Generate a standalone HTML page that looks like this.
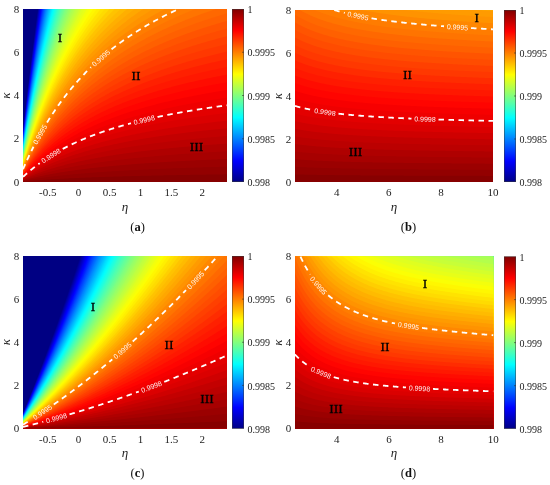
<!DOCTYPE html>
<html><head><meta charset="utf-8"><title>Figure</title><style>
html,body{margin:0;padding:0;background:#fff}
body{width:550px;height:485px;overflow:hidden}
svg{display:block}
.ct{fill:none;stroke:#fff;stroke-width:1.8;stroke-dasharray:5.5 4.5}
.cl{font-family:"Liberation Sans",sans-serif;font-size:7.0px;fill:#fff;fill-opacity:0.95;text-anchor:middle}
.tk{font-family:"Liberation Serif",serif;font-size:10px;fill:#222}
.tk2{font-family:"Liberation Serif",serif;font-size:11px;fill:#222}
.ax{font-family:"Liberation Serif",serif;font-style:italic;font-size:13px;fill:#222}
.cap{font-family:"Liberation Serif",serif;font-size:12.5px;fill:#111}
.rg{font-family:"Liberation Serif",serif;font-size:13.5px;fill:#000;stroke:#000;stroke-width:0.3}
</style></head><body>
<svg width="550" height="485" viewBox="0 0 550 485">
<defs>
<linearGradient id="jetg" x1="0" y1="1" x2="0" y2="0"><stop offset="0.0000" stop-color="#000084"/><stop offset="0.1216" stop-color="#0000ff"/><stop offset="0.3725" stop-color="#00ffff"/><stop offset="0.6235" stop-color="#ffff00"/><stop offset="0.8745" stop-color="#ff0000"/><stop offset="1.0000" stop-color="#800000"/></linearGradient>
<clipPath id="ka"><rect x="23.00" y="9.00" width="204.00" height="173.00"/></clipPath>
<path id="pa" d="M21.00 184.00L21.00 156.49L23.00 156.49L23.25 155.33L23.50 154.18L23.75 153.03L24.00 151.88L24.25 150.74L24.50 149.60L24.75 148.47L25.00 147.34L25.25 146.22L25.50 145.10L25.75 143.99L26.00 142.88L26.25 141.77L26.50 140.67L26.75 139.57L27.00 138.48L27.25 137.39L27.50 136.31L27.75 135.23L28.00 134.15L28.25 133.08L28.50 132.01L28.75 130.95L29.00 129.89L29.25 128.84L29.50 127.79L29.75 126.74L30.00 125.70L30.25 124.66L30.50 123.62L30.75 122.59L31.00 121.56L31.25 120.54L31.50 119.52L31.75 118.50L32.00 117.49L32.25 116.49L32.50 115.48L32.75 114.48L33.00 113.48L33.25 112.49L33.50 111.50L33.75 110.52L34.00 109.53L34.25 108.56L34.50 107.58L34.75 106.61L35.00 105.64L36.00 101.81L37.00 98.03L38.00 94.30L39.00 90.63L40.00 87.01L41.00 83.45L42.00 79.93L43.00 76.46L44.00 73.04L45.00 69.66L46.00 66.34L47.00 63.05L48.00 59.81L49.00 56.62L50.00 53.47L51.00 50.35L52.00 47.28L53.00 44.25L54.00 41.26L55.00 38.31L56.00 35.39L57.00 32.51L58.00 29.67L59.00 26.86L60.00 24.09L61.00 21.35L62.00 18.65L63.00 15.98L64.00 13.34L65.00 10.73L66.00 8.16L67.00 5.61L68.00 3.10L69.00 0.61L70.00 -1.84L71.00 -4.27L72.00 -6.67L73.00 -9.04L74.00 -11.38L75.00 -13.70L76.00 -15.99L77.00 -18.26L78.00 -20.50L79.00 -22.71L80.00 -24.91L81.00 -27.07L82.00 -29.22L83.00 -31.33L84.00 -33.43L85.00 -35.51L86.00 -37.56L87.00 -39.59L88.00 -41.60L89.00 -43.58L90.00 -45.55L91.00 -47.50L92.00 -49.42L93.00 -51.33L94.00 -53.22L95.00 -55.08L96.00 -56.93L97.00 -58.76L98.00 -60.57L99.00 -62.36L100.00 -64.14L101.00 -65.90L102.00 -67.64L103.00 -69.36L104.00 -71.07L105.00 -72.76L106.00 -74.43L107.00 -76.09L108.00 -77.73L109.00 -79.35L110.00 -80.96L111.00 -82.56L112.00 -84.14L113.00 -85.70L114.00 -87.25L115.00 -88.79L116.00 -90.31L117.00 -91.82L118.00 -93.32L119.00 -94.80L120.00 -96.26L121.00 -97.72L122.00 -99.16L123.00 -100.59L124.00 -102.00L125.00 -103.41L126.00 -104.80L127.00 -106.17L128.00 -107.54L129.00 -108.89L130.00 -110.24L131.00 -111.57L132.00 -112.89L133.00 -114.20L134.00 -115.49L135.00 -116.78L136.00 -118.06L137.00 -119.32L138.00 -120.57L139.00 -121.82L140.00 -123.05L141.00 -124.27L142.00 -125.49L143.00 -126.69L144.00 -127.88L145.00 -129.07L146.00 -130.24L147.00 -131.40L148.00 -132.56L149.00 -133.70L150.00 -134.84L151.00 -135.97L152.00 -137.09L153.00 -138.20L154.00 -139.30L155.00 -140.39L156.00 -141.47L157.00 -142.55L158.00 -143.62L159.00 -144.68L160.00 -145.73L161.00 -146.77L162.00 -147.81L163.00 -148.83L164.00 -149.85L165.00 -150.86L166.00 -151.87L167.00 -152.86L168.00 -153.85L169.00 -154.84L170.00 -155.81L171.00 -156.78L172.00 -157.74L173.00 -158.69L174.00 -159.64L175.00 -160.58L176.00 -161.51L177.00 -162.44L178.00 -163.35L179.00 -164.27L180.00 -165.17L181.00 -166.07L182.00 -166.97L183.00 -167.85L184.00 -168.74L185.00 -169.61L186.00 -170.48L187.00 -171.34L188.00 -172.20L189.00 -173.05L190.00 -173.89L191.00 -174.73L192.00 -175.57L193.00 -176.39L194.00 -177.22L195.00 -178.03L196.00 -178.84L197.00 -179.65L198.00 -180.45L199.00 -181.24L200.00 -182.03L201.00 -182.82L202.00 -183.60L203.00 -184.37L204.00 -185.14L205.00 -185.90L206.00 -186.66L207.00 -187.42L208.00 -188.17L209.00 -188.91L210.00 -189.65L211.00 -190.38L212.00 -191.11L213.00 -191.84L214.00 -192.56L215.00 -193.28L216.00 -193.99L217.00 -194.70L218.00 -195.40L219.00 -196.10L220.00 -196.79L221.00 -197.48L222.00 -198.17L223.00 -198.85L224.00 -199.52L225.00 -200.20L226.00 -200.87L227.00 -201.53L229.00 -201.53L229.00 184.00Z"/>
<clipPath id="kb"><rect x="295.00" y="10.00" width="198.00" height="172.00"/></clipPath>
<path id="pb" d="M293.00 184.00L293.00 -198.26L295.00 -198.26L295.25 -197.90L295.50 -197.55L295.75 -197.21L296.00 -196.86L296.25 -196.52L296.50 -196.17L296.75 -195.84L297.00 -195.50L297.25 -195.16L297.50 -194.83L297.75 -194.50L298.00 -194.17L298.25 -193.84L298.50 -193.52L298.75 -193.20L299.00 -192.88L299.25 -192.56L299.50 -192.24L299.75 -191.93L300.00 -191.62L300.25 -191.31L300.50 -191.00L300.75 -190.69L301.00 -190.39L301.25 -190.09L301.50 -189.78L301.75 -189.49L302.00 -189.19L302.25 -188.89L302.50 -188.60L302.75 -188.31L303.00 -188.02L303.25 -187.73L303.50 -187.44L303.75 -187.16L304.00 -186.88L304.25 -186.60L304.50 -186.32L304.75 -186.04L305.00 -185.76L305.25 -185.49L305.50 -185.21L305.75 -184.94L306.00 -184.67L306.25 -184.40L306.50 -184.14L306.75 -183.87L307.00 -183.61L308.00 -182.57L309.00 -181.56L310.00 -180.56L311.00 -179.59L312.00 -178.65L313.00 -177.72L314.00 -176.81L315.00 -175.92L316.00 -175.06L317.00 -174.21L318.00 -173.37L319.00 -172.56L320.00 -171.76L321.00 -170.98L322.00 -170.21L323.00 -169.46L324.00 -168.73L325.00 -168.01L326.00 -167.30L327.00 -166.61L328.00 -165.93L329.00 -165.26L330.00 -164.61L331.00 -163.96L332.00 -163.33L333.00 -162.72L334.00 -162.11L335.00 -161.51L336.00 -160.93L337.00 -160.35L338.00 -159.79L339.00 -159.24L340.00 -158.69L341.00 -158.16L342.00 -157.63L343.00 -157.11L344.00 -156.60L345.00 -156.11L346.00 -155.61L347.00 -155.13L348.00 -154.66L349.00 -154.19L350.00 -153.73L351.00 -153.28L352.00 -152.83L353.00 -152.39L354.00 -151.96L355.00 -151.54L356.00 -151.12L357.00 -150.71L358.00 -150.30L359.00 -149.91L360.00 -149.51L361.00 -149.13L362.00 -148.74L363.00 -148.37L364.00 -148.00L365.00 -147.63L366.00 -147.28L367.00 -146.92L368.00 -146.57L369.00 -146.23L370.00 -145.89L371.00 -145.55L372.00 -145.23L373.00 -144.90L374.00 -144.58L375.00 -144.26L376.00 -143.95L377.00 -143.64L378.00 -143.34L379.00 -143.04L380.00 -142.74L381.00 -142.45L382.00 -142.16L383.00 -141.88L384.00 -141.60L385.00 -141.32L386.00 -141.05L387.00 -140.78L388.00 -140.51L389.00 -140.25L390.00 -139.99L391.00 -139.73L392.00 -139.47L393.00 -139.22L394.00 -138.98L395.00 -138.73L396.00 -138.49L397.00 -138.25L398.00 -138.01L399.00 -137.78L400.00 -137.55L401.00 -137.32L402.00 -137.09L403.00 -136.87L404.00 -136.65L405.00 -136.43L406.00 -136.22L407.00 -136.00L408.00 -135.79L409.00 -135.58L410.00 -135.37L411.00 -135.17L412.00 -134.97L413.00 -134.77L414.00 -134.57L415.00 -134.37L416.00 -134.18L417.00 -133.99L418.00 -133.80L419.00 -133.61L420.00 -133.42L421.00 -133.24L422.00 -133.06L423.00 -132.88L424.00 -132.70L425.00 -132.52L426.00 -132.34L427.00 -132.17L428.00 -132.00L429.00 -131.83L430.00 -131.66L431.00 -131.49L432.00 -131.33L433.00 -131.16L434.00 -131.00L435.00 -130.84L436.00 -130.68L437.00 -130.52L438.00 -130.36L439.00 -130.21L440.00 -130.05L441.00 -129.90L442.00 -129.75L443.00 -129.60L444.00 -129.45L445.00 -129.30L446.00 -129.16L447.00 -129.01L448.00 -128.87L449.00 -128.72L450.00 -128.58L451.00 -128.44L452.00 -128.30L453.00 -128.16L454.00 -128.03L455.00 -127.89L456.00 -127.76L457.00 -127.62L458.00 -127.49L459.00 -127.36L460.00 -127.23L461.00 -127.10L462.00 -126.97L463.00 -126.84L464.00 -126.71L465.00 -126.59L466.00 -126.46L467.00 -126.34L468.00 -126.21L469.00 -126.09L470.00 -125.97L471.00 -125.85L472.00 -125.73L473.00 -125.61L474.00 -125.49L475.00 -125.37L476.00 -125.26L477.00 -125.14L478.00 -125.03L479.00 -124.91L480.00 -124.80L481.00 -124.69L482.00 -124.57L483.00 -124.46L484.00 -124.35L485.00 -124.24L486.00 -124.13L487.00 -124.02L488.00 -123.92L489.00 -123.81L490.00 -123.70L491.00 -123.60L492.00 -123.49L493.00 -123.39L495.00 -123.39L495.00 184.00Z"/>
<clipPath id="kc"><rect x="23.00" y="256.00" width="204.00" height="172.50"/></clipPath>
<path id="pc" d="M21.00 430.50L21.00 420.94L23.00 420.94L23.25 420.63L23.50 420.32L23.75 420.01L24.00 419.70L24.25 419.39L24.50 419.08L24.75 418.77L25.00 418.46L25.25 418.14L25.50 417.83L25.75 417.52L26.00 417.20L26.25 416.89L26.50 416.58L26.75 416.26L27.00 415.95L27.25 415.63L27.50 415.32L27.75 415.00L28.00 414.69L28.25 414.37L28.50 414.05L28.75 413.74L29.00 413.42L29.25 413.10L29.50 412.79L29.75 412.47L30.00 412.15L30.25 411.83L30.50 411.51L30.75 411.19L31.00 410.87L31.25 410.55L31.50 410.23L31.75 409.91L32.00 409.59L32.25 409.27L32.50 408.95L32.75 408.63L33.00 408.30L33.25 407.98L33.50 407.66L33.75 407.34L34.00 407.01L34.25 406.69L34.50 406.37L34.75 406.04L35.00 405.72L36.00 404.41L37.00 403.11L38.00 401.80L39.00 400.48L40.00 399.16L41.00 397.83L42.00 396.50L43.00 395.16L44.00 393.82L45.00 392.47L46.00 391.12L47.00 389.76L48.00 388.40L49.00 387.03L50.00 385.66L51.00 384.28L52.00 382.90L53.00 381.51L54.00 380.11L55.00 378.72L56.00 377.31L57.00 375.91L58.00 374.49L59.00 373.07L60.00 371.65L61.00 370.22L62.00 368.79L63.00 367.35L64.00 365.90L65.00 364.46L66.00 363.00L67.00 361.54L68.00 360.08L69.00 358.61L70.00 357.13L71.00 355.65L72.00 354.17L73.00 352.68L74.00 351.19L75.00 349.69L76.00 348.18L77.00 346.67L78.00 345.16L79.00 343.64L80.00 342.11L81.00 340.58L82.00 339.05L83.00 337.51L84.00 335.96L85.00 334.41L86.00 332.85L87.00 331.29L88.00 329.73L89.00 328.16L90.00 326.58L91.00 325.00L92.00 323.41L93.00 321.82L94.00 320.23L95.00 318.63L96.00 317.02L97.00 315.41L98.00 313.79L99.00 312.17L100.00 310.54L101.00 308.91L102.00 307.27L103.00 305.63L104.00 303.99L105.00 302.33L106.00 300.68L107.00 299.01L108.00 297.35L109.00 295.67L110.00 294.00L111.00 292.31L112.00 290.63L113.00 288.93L114.00 287.24L115.00 285.53L116.00 283.83L117.00 282.11L118.00 280.40L119.00 278.67L120.00 276.94L121.00 275.21L122.00 273.47L123.00 271.73L124.00 269.98L125.00 268.23L126.00 266.47L127.00 264.70L128.00 262.94L129.00 261.16L130.00 259.38L131.00 257.60L132.00 255.81L133.00 254.02L134.00 252.22L135.00 250.41L136.00 248.60L137.00 246.79L138.00 244.97L139.00 243.14L140.00 241.31L141.00 239.48L142.00 237.64L143.00 235.79L144.00 233.94L145.00 232.09L146.00 230.23L147.00 228.36L148.00 226.49L149.00 224.62L150.00 222.74L151.00 220.85L152.00 218.96L153.00 217.07L154.00 215.17L155.00 213.26L156.00 211.35L157.00 209.43L158.00 207.51L159.00 205.59L160.00 203.65L161.00 201.72L162.00 199.78L163.00 197.83L164.00 195.88L165.00 193.92L166.00 191.96L167.00 189.99L168.00 188.02L169.00 186.04L170.00 184.06L171.00 182.08L172.00 180.08L173.00 178.09L174.00 176.08L175.00 174.08L176.00 172.06L177.00 170.05L178.00 168.02L179.00 166.00L180.00 163.96L181.00 161.93L182.00 159.88L183.00 157.84L184.00 155.78L185.00 153.72L186.00 151.66L187.00 149.59L188.00 147.52L189.00 145.44L190.00 143.36L191.00 141.27L192.00 139.17L193.00 137.08L194.00 134.97L195.00 132.86L196.00 130.75L197.00 128.63L198.00 126.51L199.00 124.38L200.00 122.24L201.00 120.10L202.00 117.96L203.00 115.81L204.00 113.65L205.00 111.50L206.00 109.33L207.00 107.16L208.00 104.99L209.00 102.81L210.00 100.62L211.00 98.43L212.00 96.24L213.00 94.04L214.00 91.83L215.00 89.62L216.00 87.40L217.00 85.18L218.00 82.96L219.00 80.73L220.00 78.49L221.00 76.25L222.00 74.00L223.00 71.75L224.00 69.50L225.00 67.24L226.00 64.97L227.00 62.70L229.00 62.70L229.00 430.50Z"/>
<clipPath id="kd"><rect x="295.00" y="256.60" width="198.30" height="172.10"/></clipPath>
<path id="pd" d="M293.00 430.70L293.00 57.56L295.00 57.56L295.25 58.92L295.50 60.28L295.75 61.62L296.00 62.95L296.25 64.26L296.50 65.56L296.75 66.84L297.00 68.11L297.25 69.37L297.50 70.62L297.75 71.85L298.00 73.07L298.25 74.28L298.50 75.48L298.75 76.66L299.00 77.83L299.25 78.99L299.50 80.14L299.75 81.28L300.00 82.40L300.25 83.52L300.50 84.62L300.75 85.71L301.00 86.79L301.25 87.87L301.50 88.93L301.75 89.98L302.00 91.02L302.25 92.05L302.50 93.07L302.75 94.08L303.00 95.08L303.25 96.07L303.50 97.05L303.75 98.03L304.00 98.99L304.25 99.94L304.50 100.89L304.75 101.83L305.00 102.75L305.25 103.67L305.50 104.58L305.75 105.49L306.00 106.38L306.25 107.26L306.50 108.14L306.75 109.01L307.00 109.87L308.00 113.24L309.00 116.49L310.00 119.63L311.00 122.66L312.00 125.59L313.00 128.41L314.00 131.14L315.00 133.79L316.00 136.34L317.00 138.82L318.00 141.21L319.00 143.53L320.00 145.77L321.00 147.95L322.00 150.06L323.00 152.11L324.00 154.09L325.00 156.01L326.00 157.88L327.00 159.70L328.00 161.46L329.00 163.17L330.00 164.83L331.00 166.45L332.00 168.02L333.00 169.54L334.00 171.03L335.00 172.47L336.00 173.88L337.00 175.25L338.00 176.58L339.00 177.88L340.00 179.14L341.00 180.38L342.00 181.58L343.00 182.75L344.00 183.89L345.00 185.00L346.00 186.08L347.00 187.14L348.00 188.18L349.00 189.18L350.00 190.17L351.00 191.13L352.00 192.07L353.00 192.98L354.00 193.88L355.00 194.75L356.00 195.61L357.00 196.44L358.00 197.26L359.00 198.06L360.00 198.84L361.00 199.61L362.00 200.35L363.00 201.08L364.00 201.80L365.00 202.50L366.00 203.19L367.00 203.86L368.00 204.52L369.00 205.17L370.00 205.80L371.00 206.42L372.00 207.02L373.00 207.62L374.00 208.20L375.00 208.77L376.00 209.34L377.00 209.89L378.00 210.43L379.00 210.96L380.00 211.48L381.00 211.99L382.00 212.49L383.00 212.98L384.00 213.46L385.00 213.94L386.00 214.41L387.00 214.86L388.00 215.32L389.00 215.76L390.00 216.19L391.00 216.62L392.00 217.04L393.00 217.46L394.00 217.86L395.00 218.26L396.00 218.66L397.00 219.05L398.00 219.43L399.00 219.81L400.00 220.18L401.00 220.54L402.00 220.90L403.00 221.25L404.00 221.60L405.00 221.95L406.00 222.28L407.00 222.62L408.00 222.95L409.00 223.27L410.00 223.59L411.00 223.91L412.00 224.22L413.00 224.53L414.00 224.83L415.00 225.13L416.00 225.43L417.00 225.72L418.00 226.01L419.00 226.29L420.00 226.57L421.00 226.85L422.00 227.13L423.00 227.40L424.00 227.67L425.00 227.93L426.00 228.19L427.00 228.45L428.00 228.71L429.00 228.96L430.00 229.21L431.00 229.46L432.00 229.71L433.00 229.95L434.00 230.19L435.00 230.43L436.00 230.67L437.00 230.90L438.00 231.14L439.00 231.37L440.00 231.59L441.00 231.82L442.00 232.04L443.00 232.27L444.00 232.49L445.00 232.70L446.00 232.92L447.00 233.14L448.00 233.35L449.00 233.56L450.00 233.77L451.00 233.98L452.00 234.19L453.00 234.39L454.00 234.60L455.00 234.80L456.00 235.00L457.00 235.20L458.00 235.40L459.00 235.60L460.00 235.79L461.00 235.99L462.00 236.18L463.00 236.37L464.00 236.56L465.00 236.76L466.00 236.95L467.00 237.13L468.00 237.32L469.00 237.51L470.00 237.69L471.00 237.88L472.00 238.06L473.00 238.25L474.00 238.43L475.00 238.61L476.00 238.79L477.00 238.97L478.00 239.15L479.00 239.33L480.00 239.51L481.00 239.68L482.00 239.86L483.00 240.04L484.00 240.21L485.00 240.39L486.00 240.56L487.00 240.73L488.00 240.91L489.00 241.08L490.00 241.25L491.00 241.42L492.00 241.60L493.00 241.77L493.30 241.82L495.30 241.82L495.30 430.70Z"/>
</defs>
<g clip-path="url(#ka)">
<rect x="22.00" y="8.00" width="206.00" height="175.00" fill="#000083"/>
<use href="#pa" fill="#00008b" transform="matrix(1 0 0 1.98000 0 -178.360)"/>
<use href="#pa" fill="#000097" transform="matrix(1 0 0 1.96000 0 -174.720)"/>
<use href="#pa" fill="#00009f" transform="matrix(1 0 0 1.94000 0 -171.080)"/>
<use href="#pa" fill="#0000ab" transform="matrix(1 0 0 1.92000 0 -167.440)"/>
<use href="#pa" fill="#0000b3" transform="matrix(1 0 0 1.90000 0 -163.800)"/>
<use href="#pa" fill="#0000bf" transform="matrix(1 0 0 1.88000 0 -160.160)"/>
<use href="#pa" fill="#0000c7" transform="matrix(1 0 0 1.86000 0 -156.520)"/>
<use href="#pa" fill="#0000d3" transform="matrix(1 0 0 1.84000 0 -152.880)"/>
<use href="#pa" fill="#0000df" transform="matrix(1 0 0 1.82000 0 -149.240)"/>
<use href="#pa" fill="#0000e7" transform="matrix(1 0 0 1.80000 0 -145.600)"/>
<use href="#pa" fill="#0000f3" transform="matrix(1 0 0 1.78000 0 -141.960)"/>
<use href="#pa" fill="#0000fb" transform="matrix(1 0 0 1.76000 0 -138.320)"/>
<use href="#pa" fill="#0008ff" transform="matrix(1 0 0 1.74000 0 -134.680)"/>
<use href="#pa" fill="#0010ff" transform="matrix(1 0 0 1.72000 0 -131.040)"/>
<use href="#pa" fill="#001cff" transform="matrix(1 0 0 1.70000 0 -127.400)"/>
<use href="#pa" fill="#0024ff" transform="matrix(1 0 0 1.68000 0 -123.760)"/>
<use href="#pa" fill="#0030ff" transform="matrix(1 0 0 1.66000 0 -120.120)"/>
<use href="#pa" fill="#003cff" transform="matrix(1 0 0 1.64000 0 -116.480)"/>
<use href="#pa" fill="#0044ff" transform="matrix(1 0 0 1.62000 0 -112.840)"/>
<use href="#pa" fill="#0050ff" transform="matrix(1 0 0 1.60000 0 -109.200)"/>
<use href="#pa" fill="#0058ff" transform="matrix(1 0 0 1.58000 0 -105.560)"/>
<use href="#pa" fill="#0064ff" transform="matrix(1 0 0 1.56000 0 -101.920)"/>
<use href="#pa" fill="#006cff" transform="matrix(1 0 0 1.54000 0 -98.280)"/>
<use href="#pa" fill="#0078ff" transform="matrix(1 0 0 1.52000 0 -94.640)"/>
<use href="#pa" fill="#0083ff" transform="matrix(1 0 0 1.50000 0 -91.000)"/>
<use href="#pa" fill="#008bff" transform="matrix(1 0 0 1.48000 0 -87.360)"/>
<use href="#pa" fill="#0097ff" transform="matrix(1 0 0 1.46000 0 -83.720)"/>
<use href="#pa" fill="#009fff" transform="matrix(1 0 0 1.44000 0 -80.080)"/>
<use href="#pa" fill="#00abff" transform="matrix(1 0 0 1.42000 0 -76.440)"/>
<use href="#pa" fill="#00b3ff" transform="matrix(1 0 0 1.40000 0 -72.800)"/>
<use href="#pa" fill="#00bfff" transform="matrix(1 0 0 1.38000 0 -69.160)"/>
<use href="#pa" fill="#00c7ff" transform="matrix(1 0 0 1.36000 0 -65.520)"/>
<use href="#pa" fill="#00d3ff" transform="matrix(1 0 0 1.34000 0 -61.880)"/>
<use href="#pa" fill="#00dfff" transform="matrix(1 0 0 1.32000 0 -58.240)"/>
<use href="#pa" fill="#00e7ff" transform="matrix(1 0 0 1.30000 0 -54.600)"/>
<use href="#pa" fill="#00f3ff" transform="matrix(1 0 0 1.28000 0 -50.960)"/>
<use href="#pa" fill="#00fbff" transform="matrix(1 0 0 1.26000 0 -47.320)"/>
<use href="#pa" fill="#08fff7" transform="matrix(1 0 0 1.24000 0 -43.680)"/>
<use href="#pa" fill="#10ffef" transform="matrix(1 0 0 1.22000 0 -40.040)"/>
<use href="#pa" fill="#1cffe3" transform="matrix(1 0 0 1.20000 0 -36.400)"/>
<use href="#pa" fill="#24ffdb" transform="matrix(1 0 0 1.18000 0 -32.760)"/>
<use href="#pa" fill="#30ffcf" transform="matrix(1 0 0 1.16000 0 -29.120)"/>
<use href="#pa" fill="#3cffc3" transform="matrix(1 0 0 1.14000 0 -25.480)"/>
<use href="#pa" fill="#44ffbb" transform="matrix(1 0 0 1.12000 0 -21.840)"/>
<use href="#pa" fill="#50ffaf" transform="matrix(1 0 0 1.10000 0 -18.200)"/>
<use href="#pa" fill="#58ffa7" transform="matrix(1 0 0 1.08000 0 -14.560)"/>
<use href="#pa" fill="#64ff9b" transform="matrix(1 0 0 1.06000 0 -10.920)"/>
<use href="#pa" fill="#6cff93" transform="matrix(1 0 0 1.04000 0 -7.280)"/>
<use href="#pa" fill="#78ff87" transform="matrix(1 0 0 1.02000 0 -3.640)"/>
<use href="#pa" fill="#83ff7c" transform="matrix(1 0 0 1.00000 0 0.000)"/>
<use href="#pa" fill="#8bff74" transform="matrix(1 0 0 0.98000 0 3.640)"/>
<use href="#pa" fill="#97ff68" transform="matrix(1 0 0 0.96000 0 7.280)"/>
<use href="#pa" fill="#9fff60" transform="matrix(1 0 0 0.94000 0 10.920)"/>
<use href="#pa" fill="#abff54" transform="matrix(1 0 0 0.92000 0 14.560)"/>
<use href="#pa" fill="#b3ff4c" transform="matrix(1 0 0 0.90000 0 18.200)"/>
<use href="#pa" fill="#bfff40" transform="matrix(1 0 0 0.88000 0 21.840)"/>
<use href="#pa" fill="#c7ff38" transform="matrix(1 0 0 0.86000 0 25.480)"/>
<use href="#pa" fill="#d3ff2c" transform="matrix(1 0 0 0.84000 0 29.120)"/>
<use href="#pa" fill="#dfff20" transform="matrix(1 0 0 0.82000 0 32.760)"/>
<use href="#pa" fill="#e7ff18" transform="matrix(1 0 0 0.80000 0 36.400)"/>
<use href="#pa" fill="#f3ff0c" transform="matrix(1 0 0 0.78000 0 40.040)"/>
<use href="#pa" fill="#fbff04" transform="matrix(1 0 0 0.76000 0 43.680)"/>
<use href="#pa" fill="#fff700" transform="matrix(1 0 0 0.74000 0 47.320)"/>
<use href="#pa" fill="#ffef00" transform="matrix(1 0 0 0.72000 0 50.960)"/>
<use href="#pa" fill="#ffe300" transform="matrix(1 0 0 0.70000 0 54.600)"/>
<use href="#pa" fill="#ffdb00" transform="matrix(1 0 0 0.68000 0 58.240)"/>
<use href="#pa" fill="#ffcf00" transform="matrix(1 0 0 0.66000 0 61.880)"/>
<use href="#pa" fill="#ffc300" transform="matrix(1 0 0 0.64000 0 65.520)"/>
<use href="#pa" fill="#ffbb00" transform="matrix(1 0 0 0.62000 0 69.160)"/>
<use href="#pa" fill="#ffaf00" transform="matrix(1 0 0 0.60000 0 72.800)"/>
<use href="#pa" fill="#ffa700" transform="matrix(1 0 0 0.58000 0 76.440)"/>
<use href="#pa" fill="#ff9b00" transform="matrix(1 0 0 0.56000 0 80.080)"/>
<use href="#pa" fill="#ff9300" transform="matrix(1 0 0 0.54000 0 83.720)"/>
<use href="#pa" fill="#ff8700" transform="matrix(1 0 0 0.52000 0 87.360)"/>
<use href="#pa" fill="#ff7c00" transform="matrix(1 0 0 0.50000 0 91.000)"/>
<use href="#pa" fill="#ff7400" transform="matrix(1 0 0 0.48000 0 94.640)"/>
<use href="#pa" fill="#ff6800" transform="matrix(1 0 0 0.46000 0 98.280)"/>
<use href="#pa" fill="#ff6000" transform="matrix(1 0 0 0.44000 0 101.920)"/>
<use href="#pa" fill="#ff5400" transform="matrix(1 0 0 0.42000 0 105.560)"/>
<use href="#pa" fill="#ff4c00" transform="matrix(1 0 0 0.40000 0 109.200)"/>
<use href="#pa" fill="#ff4000" transform="matrix(1 0 0 0.38000 0 112.840)"/>
<use href="#pa" fill="#ff3800" transform="matrix(1 0 0 0.36000 0 116.480)"/>
<use href="#pa" fill="#ff2c00" transform="matrix(1 0 0 0.34000 0 120.120)"/>
<use href="#pa" fill="#ff2000" transform="matrix(1 0 0 0.32000 0 123.760)"/>
<use href="#pa" fill="#ff1800" transform="matrix(1 0 0 0.30000 0 127.400)"/>
<use href="#pa" fill="#ff0c00" transform="matrix(1 0 0 0.28000 0 131.040)"/>
<use href="#pa" fill="#ff0400" transform="matrix(1 0 0 0.26000 0 134.680)"/>
<use href="#pa" fill="#f70000" transform="matrix(1 0 0 0.24000 0 138.320)"/>
<use href="#pa" fill="#ef0000" transform="matrix(1 0 0 0.22000 0 141.960)"/>
<use href="#pa" fill="#e30000" transform="matrix(1 0 0 0.20000 0 145.600)"/>
<use href="#pa" fill="#db0000" transform="matrix(1 0 0 0.18000 0 149.240)"/>
<use href="#pa" fill="#cf0000" transform="matrix(1 0 0 0.16000 0 152.880)"/>
<use href="#pa" fill="#c30000" transform="matrix(1 0 0 0.14000 0 156.520)"/>
<use href="#pa" fill="#bb0000" transform="matrix(1 0 0 0.12000 0 160.160)"/>
<use href="#pa" fill="#af0000" transform="matrix(1 0 0 0.10000 0 163.800)"/>
<use href="#pa" fill="#a70000" transform="matrix(1 0 0 0.08000 0 167.440)"/>
<use href="#pa" fill="#9b0000" transform="matrix(1 0 0 0.06000 0 171.080)"/>
<use href="#pa" fill="#930000" transform="matrix(1 0 0 0.04000 0 174.720)"/>
<use href="#pa" fill="#870000" transform="matrix(1 0 0 0.02000 0 178.360)"/>
</g>
<rect x="232" y="9.00" width="12" height="173.00" fill="url(#jetg)"/>
<rect x="232.25" y="9.25" width="11.5" height="172.50" fill="none" stroke="#3a3a3a" stroke-width="0.5"/>
<line x1="242.0" x2="244.0" y1="138.75" y2="138.75" stroke="#333" stroke-width="0.6"/>
<line x1="242.0" x2="244.0" y1="95.50" y2="95.50" stroke="#333" stroke-width="0.6"/>
<line x1="242.0" x2="244.0" y1="52.25" y2="52.25" stroke="#333" stroke-width="0.6"/>
<g clip-path="url(#kb)">
<rect x="294.00" y="9.00" width="200.00" height="174.00" fill="#000083"/>
<use href="#pb" fill="#00008b" transform="matrix(1 0 0 1.98000 0 -178.360)"/>
<use href="#pb" fill="#000097" transform="matrix(1 0 0 1.96000 0 -174.720)"/>
<use href="#pb" fill="#00009f" transform="matrix(1 0 0 1.94000 0 -171.080)"/>
<use href="#pb" fill="#0000ab" transform="matrix(1 0 0 1.92000 0 -167.440)"/>
<use href="#pb" fill="#0000b3" transform="matrix(1 0 0 1.90000 0 -163.800)"/>
<use href="#pb" fill="#0000bf" transform="matrix(1 0 0 1.88000 0 -160.160)"/>
<use href="#pb" fill="#0000c7" transform="matrix(1 0 0 1.86000 0 -156.520)"/>
<use href="#pb" fill="#0000d3" transform="matrix(1 0 0 1.84000 0 -152.880)"/>
<use href="#pb" fill="#0000df" transform="matrix(1 0 0 1.82000 0 -149.240)"/>
<use href="#pb" fill="#0000e7" transform="matrix(1 0 0 1.80000 0 -145.600)"/>
<use href="#pb" fill="#0000f3" transform="matrix(1 0 0 1.78000 0 -141.960)"/>
<use href="#pb" fill="#0000fb" transform="matrix(1 0 0 1.76000 0 -138.320)"/>
<use href="#pb" fill="#0008ff" transform="matrix(1 0 0 1.74000 0 -134.680)"/>
<use href="#pb" fill="#0010ff" transform="matrix(1 0 0 1.72000 0 -131.040)"/>
<use href="#pb" fill="#001cff" transform="matrix(1 0 0 1.70000 0 -127.400)"/>
<use href="#pb" fill="#0024ff" transform="matrix(1 0 0 1.68000 0 -123.760)"/>
<use href="#pb" fill="#0030ff" transform="matrix(1 0 0 1.66000 0 -120.120)"/>
<use href="#pb" fill="#003cff" transform="matrix(1 0 0 1.64000 0 -116.480)"/>
<use href="#pb" fill="#0044ff" transform="matrix(1 0 0 1.62000 0 -112.840)"/>
<use href="#pb" fill="#0050ff" transform="matrix(1 0 0 1.60000 0 -109.200)"/>
<use href="#pb" fill="#0058ff" transform="matrix(1 0 0 1.58000 0 -105.560)"/>
<use href="#pb" fill="#0064ff" transform="matrix(1 0 0 1.56000 0 -101.920)"/>
<use href="#pb" fill="#006cff" transform="matrix(1 0 0 1.54000 0 -98.280)"/>
<use href="#pb" fill="#0078ff" transform="matrix(1 0 0 1.52000 0 -94.640)"/>
<use href="#pb" fill="#0083ff" transform="matrix(1 0 0 1.50000 0 -91.000)"/>
<use href="#pb" fill="#008bff" transform="matrix(1 0 0 1.48000 0 -87.360)"/>
<use href="#pb" fill="#0097ff" transform="matrix(1 0 0 1.46000 0 -83.720)"/>
<use href="#pb" fill="#009fff" transform="matrix(1 0 0 1.44000 0 -80.080)"/>
<use href="#pb" fill="#00abff" transform="matrix(1 0 0 1.42000 0 -76.440)"/>
<use href="#pb" fill="#00b3ff" transform="matrix(1 0 0 1.40000 0 -72.800)"/>
<use href="#pb" fill="#00bfff" transform="matrix(1 0 0 1.38000 0 -69.160)"/>
<use href="#pb" fill="#00c7ff" transform="matrix(1 0 0 1.36000 0 -65.520)"/>
<use href="#pb" fill="#00d3ff" transform="matrix(1 0 0 1.34000 0 -61.880)"/>
<use href="#pb" fill="#00dfff" transform="matrix(1 0 0 1.32000 0 -58.240)"/>
<use href="#pb" fill="#00e7ff" transform="matrix(1 0 0 1.30000 0 -54.600)"/>
<use href="#pb" fill="#00f3ff" transform="matrix(1 0 0 1.28000 0 -50.960)"/>
<use href="#pb" fill="#00fbff" transform="matrix(1 0 0 1.26000 0 -47.320)"/>
<use href="#pb" fill="#08fff7" transform="matrix(1 0 0 1.24000 0 -43.680)"/>
<use href="#pb" fill="#10ffef" transform="matrix(1 0 0 1.22000 0 -40.040)"/>
<use href="#pb" fill="#1cffe3" transform="matrix(1 0 0 1.20000 0 -36.400)"/>
<use href="#pb" fill="#24ffdb" transform="matrix(1 0 0 1.18000 0 -32.760)"/>
<use href="#pb" fill="#30ffcf" transform="matrix(1 0 0 1.16000 0 -29.120)"/>
<use href="#pb" fill="#3cffc3" transform="matrix(1 0 0 1.14000 0 -25.480)"/>
<use href="#pb" fill="#44ffbb" transform="matrix(1 0 0 1.12000 0 -21.840)"/>
<use href="#pb" fill="#50ffaf" transform="matrix(1 0 0 1.10000 0 -18.200)"/>
<use href="#pb" fill="#58ffa7" transform="matrix(1 0 0 1.08000 0 -14.560)"/>
<use href="#pb" fill="#64ff9b" transform="matrix(1 0 0 1.06000 0 -10.920)"/>
<use href="#pb" fill="#6cff93" transform="matrix(1 0 0 1.04000 0 -7.280)"/>
<use href="#pb" fill="#78ff87" transform="matrix(1 0 0 1.02000 0 -3.640)"/>
<use href="#pb" fill="#83ff7c" transform="matrix(1 0 0 1.00000 0 0.000)"/>
<use href="#pb" fill="#8bff74" transform="matrix(1 0 0 0.98000 0 3.640)"/>
<use href="#pb" fill="#97ff68" transform="matrix(1 0 0 0.96000 0 7.280)"/>
<use href="#pb" fill="#9fff60" transform="matrix(1 0 0 0.94000 0 10.920)"/>
<use href="#pb" fill="#abff54" transform="matrix(1 0 0 0.92000 0 14.560)"/>
<use href="#pb" fill="#b3ff4c" transform="matrix(1 0 0 0.90000 0 18.200)"/>
<use href="#pb" fill="#bfff40" transform="matrix(1 0 0 0.88000 0 21.840)"/>
<use href="#pb" fill="#c7ff38" transform="matrix(1 0 0 0.86000 0 25.480)"/>
<use href="#pb" fill="#d3ff2c" transform="matrix(1 0 0 0.84000 0 29.120)"/>
<use href="#pb" fill="#dfff20" transform="matrix(1 0 0 0.82000 0 32.760)"/>
<use href="#pb" fill="#e7ff18" transform="matrix(1 0 0 0.80000 0 36.400)"/>
<use href="#pb" fill="#f3ff0c" transform="matrix(1 0 0 0.78000 0 40.040)"/>
<use href="#pb" fill="#fbff04" transform="matrix(1 0 0 0.76000 0 43.680)"/>
<use href="#pb" fill="#fff700" transform="matrix(1 0 0 0.74000 0 47.320)"/>
<use href="#pb" fill="#ffef00" transform="matrix(1 0 0 0.72000 0 50.960)"/>
<use href="#pb" fill="#ffe300" transform="matrix(1 0 0 0.70000 0 54.600)"/>
<use href="#pb" fill="#ffdb00" transform="matrix(1 0 0 0.68000 0 58.240)"/>
<use href="#pb" fill="#ffcf00" transform="matrix(1 0 0 0.66000 0 61.880)"/>
<use href="#pb" fill="#ffc300" transform="matrix(1 0 0 0.64000 0 65.520)"/>
<use href="#pb" fill="#ffbb00" transform="matrix(1 0 0 0.62000 0 69.160)"/>
<use href="#pb" fill="#ffaf00" transform="matrix(1 0 0 0.60000 0 72.800)"/>
<use href="#pb" fill="#ffa700" transform="matrix(1 0 0 0.58000 0 76.440)"/>
<use href="#pb" fill="#ff9b00" transform="matrix(1 0 0 0.56000 0 80.080)"/>
<use href="#pb" fill="#ff9300" transform="matrix(1 0 0 0.54000 0 83.720)"/>
<use href="#pb" fill="#ff8700" transform="matrix(1 0 0 0.52000 0 87.360)"/>
<use href="#pb" fill="#ff7c00" transform="matrix(1 0 0 0.50000 0 91.000)"/>
<use href="#pb" fill="#ff7400" transform="matrix(1 0 0 0.48000 0 94.640)"/>
<use href="#pb" fill="#ff6800" transform="matrix(1 0 0 0.46000 0 98.280)"/>
<use href="#pb" fill="#ff6000" transform="matrix(1 0 0 0.44000 0 101.920)"/>
<use href="#pb" fill="#ff5400" transform="matrix(1 0 0 0.42000 0 105.560)"/>
<use href="#pb" fill="#ff4c00" transform="matrix(1 0 0 0.40000 0 109.200)"/>
<use href="#pb" fill="#ff4000" transform="matrix(1 0 0 0.38000 0 112.840)"/>
<use href="#pb" fill="#ff3800" transform="matrix(1 0 0 0.36000 0 116.480)"/>
<use href="#pb" fill="#ff2c00" transform="matrix(1 0 0 0.34000 0 120.120)"/>
<use href="#pb" fill="#ff2000" transform="matrix(1 0 0 0.32000 0 123.760)"/>
<use href="#pb" fill="#ff1800" transform="matrix(1 0 0 0.30000 0 127.400)"/>
<use href="#pb" fill="#ff0c00" transform="matrix(1 0 0 0.28000 0 131.040)"/>
<use href="#pb" fill="#ff0400" transform="matrix(1 0 0 0.26000 0 134.680)"/>
<use href="#pb" fill="#f70000" transform="matrix(1 0 0 0.24000 0 138.320)"/>
<use href="#pb" fill="#ef0000" transform="matrix(1 0 0 0.22000 0 141.960)"/>
<use href="#pb" fill="#e30000" transform="matrix(1 0 0 0.20000 0 145.600)"/>
<use href="#pb" fill="#db0000" transform="matrix(1 0 0 0.18000 0 149.240)"/>
<use href="#pb" fill="#cf0000" transform="matrix(1 0 0 0.16000 0 152.880)"/>
<use href="#pb" fill="#c30000" transform="matrix(1 0 0 0.14000 0 156.520)"/>
<use href="#pb" fill="#bb0000" transform="matrix(1 0 0 0.12000 0 160.160)"/>
<use href="#pb" fill="#af0000" transform="matrix(1 0 0 0.10000 0 163.800)"/>
<use href="#pb" fill="#a70000" transform="matrix(1 0 0 0.08000 0 167.440)"/>
<use href="#pb" fill="#9b0000" transform="matrix(1 0 0 0.06000 0 171.080)"/>
<use href="#pb" fill="#930000" transform="matrix(1 0 0 0.04000 0 174.720)"/>
<use href="#pb" fill="#870000" transform="matrix(1 0 0 0.02000 0 178.360)"/>
</g>
<rect x="504" y="10.00" width="12" height="172.00" fill="url(#jetg)"/>
<rect x="504.25" y="10.25" width="11.5" height="171.50" fill="none" stroke="#3a3a3a" stroke-width="0.5"/>
<line x1="514.0" x2="516.0" y1="139.00" y2="139.00" stroke="#333" stroke-width="0.6"/>
<line x1="514.0" x2="516.0" y1="96.00" y2="96.00" stroke="#333" stroke-width="0.6"/>
<line x1="514.0" x2="516.0" y1="53.00" y2="53.00" stroke="#333" stroke-width="0.6"/>
<g clip-path="url(#kc)">
<rect x="22.00" y="255.00" width="206.00" height="174.50" fill="#000083"/>
<use href="#pc" fill="#00008b" transform="matrix(1 0 0 1.98000 0 -419.930)"/>
<use href="#pc" fill="#000097" transform="matrix(1 0 0 1.96000 0 -411.360)"/>
<use href="#pc" fill="#00009f" transform="matrix(1 0 0 1.94000 0 -402.790)"/>
<use href="#pc" fill="#0000ab" transform="matrix(1 0 0 1.92000 0 -394.220)"/>
<use href="#pc" fill="#0000b3" transform="matrix(1 0 0 1.90000 0 -385.650)"/>
<use href="#pc" fill="#0000bf" transform="matrix(1 0 0 1.88000 0 -377.080)"/>
<use href="#pc" fill="#0000c7" transform="matrix(1 0 0 1.86000 0 -368.510)"/>
<use href="#pc" fill="#0000d3" transform="matrix(1 0 0 1.84000 0 -359.940)"/>
<use href="#pc" fill="#0000df" transform="matrix(1 0 0 1.82000 0 -351.370)"/>
<use href="#pc" fill="#0000e7" transform="matrix(1 0 0 1.80000 0 -342.800)"/>
<use href="#pc" fill="#0000f3" transform="matrix(1 0 0 1.78000 0 -334.230)"/>
<use href="#pc" fill="#0000fb" transform="matrix(1 0 0 1.76000 0 -325.660)"/>
<use href="#pc" fill="#0008ff" transform="matrix(1 0 0 1.74000 0 -317.090)"/>
<use href="#pc" fill="#0010ff" transform="matrix(1 0 0 1.72000 0 -308.520)"/>
<use href="#pc" fill="#001cff" transform="matrix(1 0 0 1.70000 0 -299.950)"/>
<use href="#pc" fill="#0024ff" transform="matrix(1 0 0 1.68000 0 -291.380)"/>
<use href="#pc" fill="#0030ff" transform="matrix(1 0 0 1.66000 0 -282.810)"/>
<use href="#pc" fill="#003cff" transform="matrix(1 0 0 1.64000 0 -274.240)"/>
<use href="#pc" fill="#0044ff" transform="matrix(1 0 0 1.62000 0 -265.670)"/>
<use href="#pc" fill="#0050ff" transform="matrix(1 0 0 1.60000 0 -257.100)"/>
<use href="#pc" fill="#0058ff" transform="matrix(1 0 0 1.58000 0 -248.530)"/>
<use href="#pc" fill="#0064ff" transform="matrix(1 0 0 1.56000 0 -239.960)"/>
<use href="#pc" fill="#006cff" transform="matrix(1 0 0 1.54000 0 -231.390)"/>
<use href="#pc" fill="#0078ff" transform="matrix(1 0 0 1.52000 0 -222.820)"/>
<use href="#pc" fill="#0083ff" transform="matrix(1 0 0 1.50000 0 -214.250)"/>
<use href="#pc" fill="#008bff" transform="matrix(1 0 0 1.48000 0 -205.680)"/>
<use href="#pc" fill="#0097ff" transform="matrix(1 0 0 1.46000 0 -197.110)"/>
<use href="#pc" fill="#009fff" transform="matrix(1 0 0 1.44000 0 -188.540)"/>
<use href="#pc" fill="#00abff" transform="matrix(1 0 0 1.42000 0 -179.970)"/>
<use href="#pc" fill="#00b3ff" transform="matrix(1 0 0 1.40000 0 -171.400)"/>
<use href="#pc" fill="#00bfff" transform="matrix(1 0 0 1.38000 0 -162.830)"/>
<use href="#pc" fill="#00c7ff" transform="matrix(1 0 0 1.36000 0 -154.260)"/>
<use href="#pc" fill="#00d3ff" transform="matrix(1 0 0 1.34000 0 -145.690)"/>
<use href="#pc" fill="#00dfff" transform="matrix(1 0 0 1.32000 0 -137.120)"/>
<use href="#pc" fill="#00e7ff" transform="matrix(1 0 0 1.30000 0 -128.550)"/>
<use href="#pc" fill="#00f3ff" transform="matrix(1 0 0 1.28000 0 -119.980)"/>
<use href="#pc" fill="#00fbff" transform="matrix(1 0 0 1.26000 0 -111.410)"/>
<use href="#pc" fill="#08fff7" transform="matrix(1 0 0 1.24000 0 -102.840)"/>
<use href="#pc" fill="#10ffef" transform="matrix(1 0 0 1.22000 0 -94.270)"/>
<use href="#pc" fill="#1cffe3" transform="matrix(1 0 0 1.20000 0 -85.700)"/>
<use href="#pc" fill="#24ffdb" transform="matrix(1 0 0 1.18000 0 -77.130)"/>
<use href="#pc" fill="#30ffcf" transform="matrix(1 0 0 1.16000 0 -68.560)"/>
<use href="#pc" fill="#3cffc3" transform="matrix(1 0 0 1.14000 0 -59.990)"/>
<use href="#pc" fill="#44ffbb" transform="matrix(1 0 0 1.12000 0 -51.420)"/>
<use href="#pc" fill="#50ffaf" transform="matrix(1 0 0 1.10000 0 -42.850)"/>
<use href="#pc" fill="#58ffa7" transform="matrix(1 0 0 1.08000 0 -34.280)"/>
<use href="#pc" fill="#64ff9b" transform="matrix(1 0 0 1.06000 0 -25.710)"/>
<use href="#pc" fill="#6cff93" transform="matrix(1 0 0 1.04000 0 -17.140)"/>
<use href="#pc" fill="#78ff87" transform="matrix(1 0 0 1.02000 0 -8.570)"/>
<use href="#pc" fill="#83ff7c" transform="matrix(1 0 0 1.00000 0 0.000)"/>
<use href="#pc" fill="#8bff74" transform="matrix(1 0 0 0.98000 0 8.570)"/>
<use href="#pc" fill="#97ff68" transform="matrix(1 0 0 0.96000 0 17.140)"/>
<use href="#pc" fill="#9fff60" transform="matrix(1 0 0 0.94000 0 25.710)"/>
<use href="#pc" fill="#abff54" transform="matrix(1 0 0 0.92000 0 34.280)"/>
<use href="#pc" fill="#b3ff4c" transform="matrix(1 0 0 0.90000 0 42.850)"/>
<use href="#pc" fill="#bfff40" transform="matrix(1 0 0 0.88000 0 51.420)"/>
<use href="#pc" fill="#c7ff38" transform="matrix(1 0 0 0.86000 0 59.990)"/>
<use href="#pc" fill="#d3ff2c" transform="matrix(1 0 0 0.84000 0 68.560)"/>
<use href="#pc" fill="#dfff20" transform="matrix(1 0 0 0.82000 0 77.130)"/>
<use href="#pc" fill="#e7ff18" transform="matrix(1 0 0 0.80000 0 85.700)"/>
<use href="#pc" fill="#f3ff0c" transform="matrix(1 0 0 0.78000 0 94.270)"/>
<use href="#pc" fill="#fbff04" transform="matrix(1 0 0 0.76000 0 102.840)"/>
<use href="#pc" fill="#fff700" transform="matrix(1 0 0 0.74000 0 111.410)"/>
<use href="#pc" fill="#ffef00" transform="matrix(1 0 0 0.72000 0 119.980)"/>
<use href="#pc" fill="#ffe300" transform="matrix(1 0 0 0.70000 0 128.550)"/>
<use href="#pc" fill="#ffdb00" transform="matrix(1 0 0 0.68000 0 137.120)"/>
<use href="#pc" fill="#ffcf00" transform="matrix(1 0 0 0.66000 0 145.690)"/>
<use href="#pc" fill="#ffc300" transform="matrix(1 0 0 0.64000 0 154.260)"/>
<use href="#pc" fill="#ffbb00" transform="matrix(1 0 0 0.62000 0 162.830)"/>
<use href="#pc" fill="#ffaf00" transform="matrix(1 0 0 0.60000 0 171.400)"/>
<use href="#pc" fill="#ffa700" transform="matrix(1 0 0 0.58000 0 179.970)"/>
<use href="#pc" fill="#ff9b00" transform="matrix(1 0 0 0.56000 0 188.540)"/>
<use href="#pc" fill="#ff9300" transform="matrix(1 0 0 0.54000 0 197.110)"/>
<use href="#pc" fill="#ff8700" transform="matrix(1 0 0 0.52000 0 205.680)"/>
<use href="#pc" fill="#ff7c00" transform="matrix(1 0 0 0.50000 0 214.250)"/>
<use href="#pc" fill="#ff7400" transform="matrix(1 0 0 0.48000 0 222.820)"/>
<use href="#pc" fill="#ff6800" transform="matrix(1 0 0 0.46000 0 231.390)"/>
<use href="#pc" fill="#ff6000" transform="matrix(1 0 0 0.44000 0 239.960)"/>
<use href="#pc" fill="#ff5400" transform="matrix(1 0 0 0.42000 0 248.530)"/>
<use href="#pc" fill="#ff4c00" transform="matrix(1 0 0 0.40000 0 257.100)"/>
<use href="#pc" fill="#ff4000" transform="matrix(1 0 0 0.38000 0 265.670)"/>
<use href="#pc" fill="#ff3800" transform="matrix(1 0 0 0.36000 0 274.240)"/>
<use href="#pc" fill="#ff2c00" transform="matrix(1 0 0 0.34000 0 282.810)"/>
<use href="#pc" fill="#ff2000" transform="matrix(1 0 0 0.32000 0 291.380)"/>
<use href="#pc" fill="#ff1800" transform="matrix(1 0 0 0.30000 0 299.950)"/>
<use href="#pc" fill="#ff0c00" transform="matrix(1 0 0 0.28000 0 308.520)"/>
<use href="#pc" fill="#ff0400" transform="matrix(1 0 0 0.26000 0 317.090)"/>
<use href="#pc" fill="#f70000" transform="matrix(1 0 0 0.24000 0 325.660)"/>
<use href="#pc" fill="#ef0000" transform="matrix(1 0 0 0.22000 0 334.230)"/>
<use href="#pc" fill="#e30000" transform="matrix(1 0 0 0.20000 0 342.800)"/>
<use href="#pc" fill="#db0000" transform="matrix(1 0 0 0.18000 0 351.370)"/>
<use href="#pc" fill="#cf0000" transform="matrix(1 0 0 0.16000 0 359.940)"/>
<use href="#pc" fill="#c30000" transform="matrix(1 0 0 0.14000 0 368.510)"/>
<use href="#pc" fill="#bb0000" transform="matrix(1 0 0 0.12000 0 377.080)"/>
<use href="#pc" fill="#af0000" transform="matrix(1 0 0 0.10000 0 385.650)"/>
<use href="#pc" fill="#a70000" transform="matrix(1 0 0 0.08000 0 394.220)"/>
<use href="#pc" fill="#9b0000" transform="matrix(1 0 0 0.06000 0 402.790)"/>
<use href="#pc" fill="#930000" transform="matrix(1 0 0 0.04000 0 411.360)"/>
<use href="#pc" fill="#870000" transform="matrix(1 0 0 0.02000 0 419.930)"/>
</g>
<rect x="232" y="256.00" width="12" height="172.50" fill="url(#jetg)"/>
<rect x="232.25" y="256.25" width="11.5" height="172.00" fill="none" stroke="#3a3a3a" stroke-width="0.5"/>
<line x1="242.0" x2="244.0" y1="385.38" y2="385.38" stroke="#333" stroke-width="0.6"/>
<line x1="242.0" x2="244.0" y1="342.25" y2="342.25" stroke="#333" stroke-width="0.6"/>
<line x1="242.0" x2="244.0" y1="299.12" y2="299.12" stroke="#333" stroke-width="0.6"/>
<g clip-path="url(#kd)">
<rect x="294.00" y="255.60" width="200.30" height="174.10" fill="#000083"/>
<use href="#pd" fill="#00008b" transform="matrix(1 0 0 1.98000 0 -420.126)"/>
<use href="#pd" fill="#000097" transform="matrix(1 0 0 1.96000 0 -411.552)"/>
<use href="#pd" fill="#00009f" transform="matrix(1 0 0 1.94000 0 -402.978)"/>
<use href="#pd" fill="#0000ab" transform="matrix(1 0 0 1.92000 0 -394.404)"/>
<use href="#pd" fill="#0000b3" transform="matrix(1 0 0 1.90000 0 -385.830)"/>
<use href="#pd" fill="#0000bf" transform="matrix(1 0 0 1.88000 0 -377.256)"/>
<use href="#pd" fill="#0000c7" transform="matrix(1 0 0 1.86000 0 -368.682)"/>
<use href="#pd" fill="#0000d3" transform="matrix(1 0 0 1.84000 0 -360.108)"/>
<use href="#pd" fill="#0000df" transform="matrix(1 0 0 1.82000 0 -351.534)"/>
<use href="#pd" fill="#0000e7" transform="matrix(1 0 0 1.80000 0 -342.960)"/>
<use href="#pd" fill="#0000f3" transform="matrix(1 0 0 1.78000 0 -334.386)"/>
<use href="#pd" fill="#0000fb" transform="matrix(1 0 0 1.76000 0 -325.812)"/>
<use href="#pd" fill="#0008ff" transform="matrix(1 0 0 1.74000 0 -317.238)"/>
<use href="#pd" fill="#0010ff" transform="matrix(1 0 0 1.72000 0 -308.664)"/>
<use href="#pd" fill="#001cff" transform="matrix(1 0 0 1.70000 0 -300.090)"/>
<use href="#pd" fill="#0024ff" transform="matrix(1 0 0 1.68000 0 -291.516)"/>
<use href="#pd" fill="#0030ff" transform="matrix(1 0 0 1.66000 0 -282.942)"/>
<use href="#pd" fill="#003cff" transform="matrix(1 0 0 1.64000 0 -274.368)"/>
<use href="#pd" fill="#0044ff" transform="matrix(1 0 0 1.62000 0 -265.794)"/>
<use href="#pd" fill="#0050ff" transform="matrix(1 0 0 1.60000 0 -257.220)"/>
<use href="#pd" fill="#0058ff" transform="matrix(1 0 0 1.58000 0 -248.646)"/>
<use href="#pd" fill="#0064ff" transform="matrix(1 0 0 1.56000 0 -240.072)"/>
<use href="#pd" fill="#006cff" transform="matrix(1 0 0 1.54000 0 -231.498)"/>
<use href="#pd" fill="#0078ff" transform="matrix(1 0 0 1.52000 0 -222.924)"/>
<use href="#pd" fill="#0083ff" transform="matrix(1 0 0 1.50000 0 -214.350)"/>
<use href="#pd" fill="#008bff" transform="matrix(1 0 0 1.48000 0 -205.776)"/>
<use href="#pd" fill="#0097ff" transform="matrix(1 0 0 1.46000 0 -197.202)"/>
<use href="#pd" fill="#009fff" transform="matrix(1 0 0 1.44000 0 -188.628)"/>
<use href="#pd" fill="#00abff" transform="matrix(1 0 0 1.42000 0 -180.054)"/>
<use href="#pd" fill="#00b3ff" transform="matrix(1 0 0 1.40000 0 -171.480)"/>
<use href="#pd" fill="#00bfff" transform="matrix(1 0 0 1.38000 0 -162.906)"/>
<use href="#pd" fill="#00c7ff" transform="matrix(1 0 0 1.36000 0 -154.332)"/>
<use href="#pd" fill="#00d3ff" transform="matrix(1 0 0 1.34000 0 -145.758)"/>
<use href="#pd" fill="#00dfff" transform="matrix(1 0 0 1.32000 0 -137.184)"/>
<use href="#pd" fill="#00e7ff" transform="matrix(1 0 0 1.30000 0 -128.610)"/>
<use href="#pd" fill="#00f3ff" transform="matrix(1 0 0 1.28000 0 -120.036)"/>
<use href="#pd" fill="#00fbff" transform="matrix(1 0 0 1.26000 0 -111.462)"/>
<use href="#pd" fill="#08fff7" transform="matrix(1 0 0 1.24000 0 -102.888)"/>
<use href="#pd" fill="#10ffef" transform="matrix(1 0 0 1.22000 0 -94.314)"/>
<use href="#pd" fill="#1cffe3" transform="matrix(1 0 0 1.20000 0 -85.740)"/>
<use href="#pd" fill="#24ffdb" transform="matrix(1 0 0 1.18000 0 -77.166)"/>
<use href="#pd" fill="#30ffcf" transform="matrix(1 0 0 1.16000 0 -68.592)"/>
<use href="#pd" fill="#3cffc3" transform="matrix(1 0 0 1.14000 0 -60.018)"/>
<use href="#pd" fill="#44ffbb" transform="matrix(1 0 0 1.12000 0 -51.444)"/>
<use href="#pd" fill="#50ffaf" transform="matrix(1 0 0 1.10000 0 -42.870)"/>
<use href="#pd" fill="#58ffa7" transform="matrix(1 0 0 1.08000 0 -34.296)"/>
<use href="#pd" fill="#64ff9b" transform="matrix(1 0 0 1.06000 0 -25.722)"/>
<use href="#pd" fill="#6cff93" transform="matrix(1 0 0 1.04000 0 -17.148)"/>
<use href="#pd" fill="#78ff87" transform="matrix(1 0 0 1.02000 0 -8.574)"/>
<use href="#pd" fill="#83ff7c" transform="matrix(1 0 0 1.00000 0 0.000)"/>
<use href="#pd" fill="#8bff74" transform="matrix(1 0 0 0.98000 0 8.574)"/>
<use href="#pd" fill="#97ff68" transform="matrix(1 0 0 0.96000 0 17.148)"/>
<use href="#pd" fill="#9fff60" transform="matrix(1 0 0 0.94000 0 25.722)"/>
<use href="#pd" fill="#abff54" transform="matrix(1 0 0 0.92000 0 34.296)"/>
<use href="#pd" fill="#b3ff4c" transform="matrix(1 0 0 0.90000 0 42.870)"/>
<use href="#pd" fill="#bfff40" transform="matrix(1 0 0 0.88000 0 51.444)"/>
<use href="#pd" fill="#c7ff38" transform="matrix(1 0 0 0.86000 0 60.018)"/>
<use href="#pd" fill="#d3ff2c" transform="matrix(1 0 0 0.84000 0 68.592)"/>
<use href="#pd" fill="#dfff20" transform="matrix(1 0 0 0.82000 0 77.166)"/>
<use href="#pd" fill="#e7ff18" transform="matrix(1 0 0 0.80000 0 85.740)"/>
<use href="#pd" fill="#f3ff0c" transform="matrix(1 0 0 0.78000 0 94.314)"/>
<use href="#pd" fill="#fbff04" transform="matrix(1 0 0 0.76000 0 102.888)"/>
<use href="#pd" fill="#fff700" transform="matrix(1 0 0 0.74000 0 111.462)"/>
<use href="#pd" fill="#ffef00" transform="matrix(1 0 0 0.72000 0 120.036)"/>
<use href="#pd" fill="#ffe300" transform="matrix(1 0 0 0.70000 0 128.610)"/>
<use href="#pd" fill="#ffdb00" transform="matrix(1 0 0 0.68000 0 137.184)"/>
<use href="#pd" fill="#ffcf00" transform="matrix(1 0 0 0.66000 0 145.758)"/>
<use href="#pd" fill="#ffc300" transform="matrix(1 0 0 0.64000 0 154.332)"/>
<use href="#pd" fill="#ffbb00" transform="matrix(1 0 0 0.62000 0 162.906)"/>
<use href="#pd" fill="#ffaf00" transform="matrix(1 0 0 0.60000 0 171.480)"/>
<use href="#pd" fill="#ffa700" transform="matrix(1 0 0 0.58000 0 180.054)"/>
<use href="#pd" fill="#ff9b00" transform="matrix(1 0 0 0.56000 0 188.628)"/>
<use href="#pd" fill="#ff9300" transform="matrix(1 0 0 0.54000 0 197.202)"/>
<use href="#pd" fill="#ff8700" transform="matrix(1 0 0 0.52000 0 205.776)"/>
<use href="#pd" fill="#ff7c00" transform="matrix(1 0 0 0.50000 0 214.350)"/>
<use href="#pd" fill="#ff7400" transform="matrix(1 0 0 0.48000 0 222.924)"/>
<use href="#pd" fill="#ff6800" transform="matrix(1 0 0 0.46000 0 231.498)"/>
<use href="#pd" fill="#ff6000" transform="matrix(1 0 0 0.44000 0 240.072)"/>
<use href="#pd" fill="#ff5400" transform="matrix(1 0 0 0.42000 0 248.646)"/>
<use href="#pd" fill="#ff4c00" transform="matrix(1 0 0 0.40000 0 257.220)"/>
<use href="#pd" fill="#ff4000" transform="matrix(1 0 0 0.38000 0 265.794)"/>
<use href="#pd" fill="#ff3800" transform="matrix(1 0 0 0.36000 0 274.368)"/>
<use href="#pd" fill="#ff2c00" transform="matrix(1 0 0 0.34000 0 282.942)"/>
<use href="#pd" fill="#ff2000" transform="matrix(1 0 0 0.32000 0 291.516)"/>
<use href="#pd" fill="#ff1800" transform="matrix(1 0 0 0.30000 0 300.090)"/>
<use href="#pd" fill="#ff0c00" transform="matrix(1 0 0 0.28000 0 308.664)"/>
<use href="#pd" fill="#ff0400" transform="matrix(1 0 0 0.26000 0 317.238)"/>
<use href="#pd" fill="#f70000" transform="matrix(1 0 0 0.24000 0 325.812)"/>
<use href="#pd" fill="#ef0000" transform="matrix(1 0 0 0.22000 0 334.386)"/>
<use href="#pd" fill="#e30000" transform="matrix(1 0 0 0.20000 0 342.960)"/>
<use href="#pd" fill="#db0000" transform="matrix(1 0 0 0.18000 0 351.534)"/>
<use href="#pd" fill="#cf0000" transform="matrix(1 0 0 0.16000 0 360.108)"/>
<use href="#pd" fill="#c30000" transform="matrix(1 0 0 0.14000 0 368.682)"/>
<use href="#pd" fill="#bb0000" transform="matrix(1 0 0 0.12000 0 377.256)"/>
<use href="#pd" fill="#af0000" transform="matrix(1 0 0 0.10000 0 385.830)"/>
<use href="#pd" fill="#a70000" transform="matrix(1 0 0 0.08000 0 394.404)"/>
<use href="#pd" fill="#9b0000" transform="matrix(1 0 0 0.06000 0 402.978)"/>
<use href="#pd" fill="#930000" transform="matrix(1 0 0 0.04000 0 411.552)"/>
<use href="#pd" fill="#870000" transform="matrix(1 0 0 0.02000 0 420.126)"/>
</g>
<rect x="504" y="256.60" width="12" height="172.10" fill="url(#jetg)"/>
<rect x="504.25" y="256.85" width="11.5" height="171.60" fill="none" stroke="#3a3a3a" stroke-width="0.5"/>
<line x1="514.0" x2="516.0" y1="385.68" y2="385.68" stroke="#333" stroke-width="0.6"/>
<line x1="514.0" x2="516.0" y1="342.65" y2="342.65" stroke="#333" stroke-width="0.6"/>
<line x1="514.0" x2="516.0" y1="299.62" y2="299.62" stroke="#333" stroke-width="0.6"/>
<text x="40.0" y="137.0" transform="rotate(-60.9 40.0 134.5)" class="cl">0.9995</text>
<text x="101.0" y="60.6" transform="rotate(-41.2 101.0 58.1)" class="cl">0.9995</text>
<path d="M23.00 169.25L23.50 168.09L24.00 166.94L24.50 165.80L25.00 164.67L25.50 163.55L26.00 162.44L26.50 161.33L27.00 160.24L27.50 159.15L28.00 158.08L28.50 157.01L29.00 155.95L29.50 154.89L30.00 153.85L30.50 152.81L31.00 151.78L31.50 150.76L32.00 149.75L32.50 148.74L33.00 147.74L33.50 146.75" class="ct"/>
<path d="M47.00 122.53L47.50 121.71L48.00 120.91L48.50 120.11L49.00 119.31L49.50 118.52L50.00 117.73L50.50 116.95L51.00 116.18L51.50 115.41L52.00 114.64L52.50 113.88L53.00 113.13L53.50 112.38L54.00 111.63L54.50 110.89L55.00 110.15L55.50 109.42L56.00 108.70L56.50 107.97L57.00 107.26L57.50 106.54L58.00 105.84L58.50 105.13L59.00 104.43L59.50 103.74L60.00 103.05L60.50 102.36L61.00 101.68L61.50 101.00L62.00 100.33L62.50 99.66L63.00 98.99L63.50 98.33L64.00 97.67L64.50 97.02L65.00 96.37L65.50 95.72L66.00 95.08L66.50 94.44L67.00 93.81L67.50 93.18L68.00 92.55L68.50 91.93L69.00 91.31L69.50 90.69L70.00 90.08L70.50 89.47L71.00 88.87L71.50 88.26L72.00 87.67L72.50 87.07L73.00 86.48L73.50 85.89L74.00 85.31L74.50 84.73L75.00 84.15L75.50 83.57L76.00 83.00L76.50 82.44L77.00 81.87L77.50 81.31L78.00 80.75L78.50 80.20L79.00 79.64L79.50 79.09L80.00 78.55L80.50 78.00L81.00 77.46L81.50 76.93L82.00 76.39L82.50 75.86L83.00 75.33L83.50 74.81L84.00 74.28L84.50 73.76L85.00 73.25L85.50 72.73L86.00 72.22L86.50 71.71L87.00 71.21L87.50 70.70L88.00 70.20L88.50 69.70L89.00 69.21L89.50 68.71L90.00 68.22L90.50 67.74L91.00 67.25" class="ct"/>
<path d="M111.50 49.32L112.00 48.93L112.50 48.54L113.00 48.15L113.50 47.76L114.00 47.37L114.50 46.99L115.00 46.60L115.50 46.22L116.00 45.84L116.50 45.47L117.00 45.09L117.50 44.71L118.00 44.34L118.50 43.97L119.00 43.60L119.50 43.23L120.00 42.87L120.50 42.50L121.00 42.14L121.50 41.78L122.00 41.42L122.50 41.06L123.00 40.71L123.50 40.35L124.00 40.00L124.50 39.65L125.00 39.30L125.50 38.95L126.00 38.60L126.50 38.26L127.00 37.91L127.50 37.57L128.00 37.23L128.50 36.89L129.00 36.55L129.50 36.22L130.00 35.88L130.50 35.55L131.00 35.22L131.50 34.89L132.00 34.56L132.50 34.23L133.00 33.90L133.50 33.58L134.00 33.25L134.50 32.93L135.00 32.61L135.50 32.29L136.00 31.97L136.50 31.66L137.00 31.34L137.50 31.03L138.00 30.71L138.50 30.40L139.00 30.09L139.50 29.78L140.00 29.47L140.50 29.17L141.00 28.86L141.50 28.56L142.00 28.26L142.50 27.96L143.00 27.66L143.50 27.36L144.00 27.06L144.50 26.76L145.00 26.47L145.50 26.17L146.00 25.88L146.50 25.59L147.00 25.30L147.50 25.01L148.00 24.72L148.50 24.43L149.00 24.15L149.50 23.86L150.00 23.58L150.50 23.30L151.00 23.02L151.50 22.74L152.00 22.46L152.50 22.18L153.00 21.90L153.50 21.63L154.00 21.35L154.50 21.08L155.00 20.80L155.50 20.53L156.00 20.26L156.50 19.99L157.00 19.72L157.50 19.46L158.00 19.19L158.50 18.93L159.00 18.66L159.50 18.40L160.00 18.14L160.50 17.87L161.00 17.61L161.50 17.36L162.00 17.10L162.50 16.84L163.00 16.58L163.50 16.33L164.00 16.07L164.50 15.82L165.00 15.57L165.50 15.32L166.00 15.07L166.50 14.82L167.00 14.57L167.50 14.32L168.00 14.07L168.50 13.83L169.00 13.58L169.50 13.34L170.00 13.10L170.50 12.85L171.00 12.61L171.50 12.37L172.00 12.13L172.50 11.89L173.00 11.65L173.50 11.42L174.00 11.18L174.50 10.95L175.00 10.71L175.50 10.48L176.00 10.25L176.50 10.01L177.00 9.78L177.50 9.55L178.00 9.32L178.50 9.09" class="ct"/>
<text x="51.0" y="158.2" transform="rotate(-31.7 51.0 155.7)" class="cl">0.9998</text>
<text x="144.2" y="122.5" transform="rotate(-13.3 144.2 120.0)" class="cl">0.9998</text>
<path d="M23.00 176.90L23.50 176.44L24.00 175.98L24.50 175.52L25.00 175.07L25.50 174.62L26.00 174.18L26.50 173.73L27.00 173.30L27.50 172.86L28.00 172.43L28.50 172.00L29.00 171.58L29.50 171.16L30.00 170.74L30.50 170.32L31.00 169.91L31.50 169.50L32.00 169.10L32.50 168.70L33.00 168.30L33.50 167.90L34.00 167.51L34.50 167.12L35.00 166.73L35.50 166.34L36.00 165.96L36.50 165.58L37.00 165.21L37.50 164.83L38.00 164.46L38.50 164.09L39.00 163.73L39.50 163.36L39.75 163.18" class="ct"/>
<path d="M62.75 148.93L63.25 148.66L63.75 148.40L64.25 148.14L64.75 147.88L65.25 147.62L65.75 147.36L66.25 147.10L66.75 146.85L67.25 146.60L67.75 146.34L68.25 146.10L68.75 145.85L69.25 145.60L69.75 145.35L70.25 145.11L70.75 144.87L71.25 144.63L71.75 144.39L72.25 144.15L72.75 143.91L73.25 143.67L73.75 143.44L74.25 143.21L74.75 142.98L75.25 142.74L75.75 142.52L76.25 142.29L76.75 142.06L77.25 141.84L77.75 141.61L78.25 141.39L78.75 141.17L79.25 140.95L79.75 140.73L80.25 140.51L80.75 140.29L81.25 140.08L81.75 139.86L82.25 139.65L82.75 139.44L83.25 139.23L83.75 139.02L84.25 138.81L84.75 138.60L85.25 138.40L85.75 138.19L86.25 137.99L86.75 137.78L87.25 137.58L87.75 137.38L88.25 137.18L88.75 136.98L89.25 136.78L89.75 136.59L90.25 136.39L90.75 136.20L91.25 136.00L91.75 135.81L92.25 135.62L92.75 135.43L93.25 135.24L93.75 135.05L94.25 134.86L94.75 134.68L95.25 134.49L95.75 134.31L96.25 134.12L96.75 133.94L97.25 133.76L97.75 133.58L98.25 133.40L98.75 133.22L99.25 133.04L99.75 132.86L100.25 132.68L100.75 132.51L101.25 132.33L101.75 132.16L102.25 131.99L102.75 131.81L103.25 131.64L103.75 131.47L104.25 131.30L104.75 131.13L105.25 130.96L105.75 130.80L106.25 130.63L106.75 130.47L107.25 130.30L107.75 130.14L108.25 129.97L108.75 129.81L109.25 129.65L109.75 129.49L110.25 129.33L110.75 129.17L111.25 129.01L111.75 128.85L112.25 128.69L112.75 128.54L113.25 128.38L113.75 128.23L114.25 128.07L114.75 127.92L115.25 127.77L115.75 127.61L116.25 127.46L116.75 127.31L117.25 127.16L117.75 127.01L118.25 126.86L118.75 126.71L119.25 126.57L119.75 126.42L120.25 126.27L120.75 126.13L121.25 125.98L121.75 125.84L122.25 125.70L122.75 125.55L123.25 125.41L123.75 125.27L124.25 125.13L124.75 124.99L125.25 124.85L125.75 124.71L126.25 124.57L126.75 124.43L127.25 124.30L127.75 124.16L128.25 124.02L128.75 123.89L129.25 123.75L129.75 123.62L130.25 123.49L130.75 123.35L131.00 123.29" class="ct"/>
<path d="M157.50 116.98L158.00 116.88L158.50 116.77L159.00 116.66L159.50 116.56L160.00 116.45L160.50 116.35L161.00 116.25L161.50 116.14L162.00 116.04L162.50 115.94L163.00 115.83L163.50 115.73L164.00 115.63L164.50 115.53L165.00 115.43L165.50 115.33L166.00 115.23L166.50 115.13L167.00 115.03L167.50 114.93L168.00 114.83L168.50 114.73L169.00 114.63L169.50 114.54L170.00 114.44L170.50 114.34L171.00 114.24L171.50 114.15L172.00 114.05L172.50 113.96L173.00 113.86L173.50 113.77L174.00 113.67L174.50 113.58L175.00 113.48L175.50 113.39L176.00 113.30L176.50 113.21L177.00 113.11L177.50 113.02L178.00 112.93L178.50 112.84L179.00 112.75L179.50 112.66L180.00 112.57L180.50 112.48L181.00 112.39L181.50 112.30L182.00 112.21L182.50 112.12L183.00 112.03L183.50 111.94L184.00 111.85L184.50 111.77L185.00 111.68L185.50 111.59L186.00 111.50L186.50 111.42L187.00 111.33L187.50 111.25L188.00 111.16L188.50 111.08L189.00 110.99L189.50 110.91L190.00 110.82L190.50 110.74L191.00 110.65L191.50 110.57L192.00 110.49L192.50 110.40L193.00 110.32L193.50 110.24L194.00 110.16L194.50 110.07L195.00 109.99L195.50 109.91L196.00 109.83L196.50 109.75L197.00 109.67L197.50 109.59L198.00 109.51L198.50 109.43L199.00 109.35L199.50 109.27L200.00 109.19L200.50 109.11L201.00 109.04L201.50 108.96L202.00 108.88L202.50 108.80L203.00 108.73L203.50 108.65L204.00 108.57L204.50 108.50L205.00 108.42L205.50 108.34L206.00 108.27L206.50 108.19L207.00 108.12L207.50 108.04L208.00 107.97L208.50 107.89L209.00 107.82L209.50 107.74L210.00 107.67L210.50 107.60L211.00 107.52L211.50 107.45L212.00 107.38L212.50 107.30L213.00 107.23L213.50 107.16L214.00 107.09L214.50 107.02L215.00 106.94L215.50 106.87L216.00 106.80L216.50 106.73L217.00 106.66L217.50 106.59L218.00 106.52L218.50 106.45L219.00 106.38L219.50 106.31L220.00 106.24L220.50 106.17L221.00 106.10L221.50 106.04L222.00 105.97L222.50 105.90L223.00 105.83L223.50 105.76L224.00 105.70L224.50 105.63L225.00 105.56L225.50 105.49L226.00 105.43L226.50 105.36L227.00 105.29" class="ct"/>
<text x="358.0" y="18.4" transform="rotate(11.4 358.0 15.8)" class="cl">0.9995</text>
<text x="457.5" y="29.7" transform="rotate(3.8 457.5 27.2)" class="cl">0.9995</text>
<path d="M334.25 10.02L334.75 10.17L335.25 10.32L335.75 10.46L336.25 10.61L336.75 10.75L337.25 10.89L337.75 11.04L338.25 11.17L338.75 11.31L339.25 11.45L339.75 11.59L340.25 11.72L340.75 11.86L341.25 11.99L341.75 12.12L342.25 12.25L342.75 12.38L343.25 12.51L343.75 12.63L344.25 12.76L344.75 12.89" class="ct"/>
<path d="M371.50 18.31L372.00 18.39L372.50 18.47L373.00 18.55L373.50 18.63L374.00 18.71L374.50 18.79L375.00 18.87L375.50 18.95L376.00 19.02L376.50 19.10L377.00 19.18L377.50 19.25L378.00 19.33L378.50 19.41L379.00 19.48L379.50 19.55L380.00 19.63L380.50 19.70L381.00 19.77L381.50 19.85L382.00 19.92L382.50 19.99L383.00 20.06L383.50 20.13L384.00 20.20L384.50 20.27L385.00 20.34L385.50 20.41L386.00 20.48L386.50 20.54L387.00 20.61L387.50 20.68L388.00 20.75L388.50 20.81L389.00 20.88L389.50 20.94L390.00 21.01L390.50 21.07L391.00 21.14L391.50 21.20L392.00 21.26L392.50 21.33L393.00 21.39L393.50 21.45L394.00 21.51L394.50 21.57L395.00 21.63L395.50 21.70L396.00 21.76L396.50 21.82L397.00 21.88L397.50 21.93L398.00 21.99L398.50 22.05L399.00 22.11L399.50 22.17L400.00 22.23L400.50 22.28L401.00 22.34L401.50 22.40L402.00 22.45L402.50 22.51L403.00 22.57L403.50 22.62L404.00 22.68L404.50 22.73L405.00 22.78L405.50 22.84L406.00 22.89L406.50 22.95L407.00 23.00L407.50 23.05L408.00 23.10L408.50 23.16L409.00 23.21L409.50 23.26L410.00 23.31L410.50 23.36L411.00 23.41L411.50 23.47L412.00 23.52L412.50 23.57L413.00 23.62L413.50 23.67L414.00 23.72L414.50 23.76L415.00 23.81L415.50 23.86L416.00 23.91L416.50 23.96L417.00 24.01L417.50 24.05L418.00 24.10L418.50 24.15L419.00 24.20L419.50 24.24L420.00 24.29L420.50 24.33L421.00 24.38L421.50 24.43L422.00 24.47L422.50 24.52L423.00 24.56L423.50 24.61L424.00 24.65L424.50 24.70L425.00 24.74L425.50 24.78L426.00 24.83L426.50 24.87L427.00 24.91L427.50 24.96L428.00 25.00L428.50 25.04L429.00 25.09L429.50 25.13L430.00 25.17L430.50 25.21L431.00 25.25L431.50 25.30L432.00 25.34L432.50 25.38L433.00 25.42L433.50 25.46L434.00 25.50L434.50 25.54L435.00 25.58L435.50 25.62L436.00 25.66L436.50 25.70L437.00 25.74L437.50 25.78L438.00 25.82L438.50 25.86L439.00 25.90L439.50 25.93L440.00 25.97L440.50 26.01L441.00 26.05L441.50 26.09L442.00 26.13L442.50 26.16L443.00 26.20L443.50 26.24L444.00 26.27" class="ct"/>
<path d="M471.00 28.08L471.50 28.11L472.00 28.14L472.50 28.16L473.00 28.19L473.50 28.22L474.00 28.25L474.50 28.28L475.00 28.31L475.50 28.34L476.00 28.37L476.50 28.40L477.00 28.43L477.50 28.46L478.00 28.49L478.50 28.51L479.00 28.54L479.50 28.57L480.00 28.60L480.50 28.63L481.00 28.66L481.50 28.68L482.00 28.71L482.50 28.74L483.00 28.77L483.50 28.80L484.00 28.82L484.50 28.85L485.00 28.88L485.50 28.91L486.00 28.93L486.50 28.96L487.00 28.99L487.50 29.01L488.00 29.04L488.50 29.07L489.00 29.10L489.50 29.12L490.00 29.15L490.50 29.18L491.00 29.20L491.50 29.23L492.00 29.25L492.50 29.28L493.00 29.31" class="ct"/>
<text x="325.0" y="114.5" transform="rotate(8.1 325.0 112.0)" class="cl">0.9998</text>
<text x="425.0" y="121.6" transform="rotate(2.0 425.0 119.1)" class="cl">0.9998</text>
<path d="M295.00 105.95L295.50 106.09L296.00 106.23L296.50 106.37L297.00 106.50L297.50 106.63L298.00 106.77L298.50 106.90L299.00 107.02L299.50 107.15L300.00 107.28L300.50 107.40L301.00 107.52L301.50 107.64L302.00 107.76L302.50 107.88L303.00 108.00L303.50 108.11L304.00 108.22L304.50 108.34L305.00 108.45L305.50 108.56L306.00 108.67L306.50 108.77L307.00 108.88L307.50 108.98L308.00 109.09L308.50 109.19L309.00 109.29L309.50 109.39L310.00 109.49L310.50 109.58L311.00 109.68L311.50 109.78" class="ct"/>
<path d="M338.50 113.70L339.00 113.75L339.50 113.81L340.00 113.86L340.50 113.92L341.00 113.97L341.50 114.02L342.00 114.07L342.50 114.13L343.00 114.18L343.50 114.23L344.00 114.28L344.50 114.33L345.00 114.38L345.50 114.43L346.00 114.48L346.50 114.53L347.00 114.57L347.50 114.62L348.00 114.67L348.50 114.72L349.00 114.76L349.50 114.81L350.00 114.85L350.50 114.90L351.00 114.94L351.50 114.99L352.00 115.03L352.50 115.08L353.00 115.12L353.50 115.16L354.00 115.21L354.50 115.25L355.00 115.29L355.50 115.33L356.00 115.38L356.50 115.42L357.00 115.46L357.50 115.50L358.00 115.54L358.50 115.58L359.00 115.62L359.50 115.66L360.00 115.70L360.50 115.74L361.00 115.77L361.50 115.81L362.00 115.85L362.50 115.89L363.00 115.93L363.50 115.96L364.00 116.00L364.50 116.04L365.00 116.07L365.50 116.11L366.00 116.14L366.50 116.18L367.00 116.22L367.50 116.25L368.00 116.29L368.50 116.32L369.00 116.35L369.50 116.39L370.00 116.42L370.50 116.46L371.00 116.49L371.50 116.52L372.00 116.55L372.50 116.59L373.00 116.62L373.50 116.65L374.00 116.68L374.50 116.72L375.00 116.75L375.50 116.78L376.00 116.81L376.50 116.84L377.00 116.87L377.50 116.90L378.00 116.93L378.50 116.96L379.00 116.99L379.50 117.02L380.00 117.05L380.50 117.08L381.00 117.11L381.50 117.14L382.00 117.17L382.50 117.20L383.00 117.22L383.50 117.25L384.00 117.28L384.50 117.31L385.00 117.34L385.50 117.36L386.00 117.39L386.50 117.42L387.00 117.44L387.50 117.47L388.00 117.50L388.50 117.52L389.00 117.55L389.50 117.58L390.00 117.60L390.50 117.63L391.00 117.65L391.50 117.68L392.00 117.71L392.50 117.73L393.00 117.76L393.50 117.78L394.00 117.80L394.50 117.83L395.00 117.85L395.50 117.88L396.00 117.90L396.50 117.93L397.00 117.95L397.50 117.97L398.00 118.00L398.50 118.02L399.00 118.04L399.50 118.07L400.00 118.09L400.50 118.11L401.00 118.14L401.50 118.16L402.00 118.18L402.50 118.20L403.00 118.23L403.50 118.25L404.00 118.27L404.50 118.29L405.00 118.31L405.50 118.34L406.00 118.36L406.50 118.38L407.00 118.40L407.50 118.42L408.00 118.44L408.50 118.46L409.00 118.48L409.50 118.50L410.00 118.53L410.50 118.55L411.00 118.57L411.50 118.59" class="ct"/>
<path d="M438.50 119.54L439.00 119.56L439.50 119.57L440.00 119.59L440.50 119.60L441.00 119.62L441.50 119.64L442.00 119.65L442.50 119.67L443.00 119.68L443.50 119.70L444.00 119.71L444.50 119.72L445.00 119.74L445.50 119.75L446.00 119.77L446.50 119.78L447.00 119.80L447.50 119.81L448.00 119.83L448.50 119.84L449.00 119.86L449.50 119.87L450.00 119.88L450.50 119.90L451.00 119.91L451.50 119.93L452.00 119.94L452.50 119.95L453.00 119.97L453.50 119.98L454.00 119.99L454.50 120.01L455.00 120.02L455.50 120.04L456.00 120.05L456.50 120.06L457.00 120.08L457.50 120.09L458.00 120.10L458.50 120.12L459.00 120.13L459.50 120.14L460.00 120.15L460.50 120.17L461.00 120.18L461.50 120.19L462.00 120.21L462.50 120.22L463.00 120.23L463.50 120.24L464.00 120.26L464.50 120.27L465.00 120.28L465.50 120.30L466.00 120.31L466.50 120.32L467.00 120.33L467.50 120.34L468.00 120.36L468.50 120.37L469.00 120.38L469.50 120.39L470.00 120.41L470.50 120.42L471.00 120.43L471.50 120.44L472.00 120.45L472.50 120.47L473.00 120.48L473.50 120.49L474.00 120.50L474.50 120.51L475.00 120.53L475.50 120.54L476.00 120.55L476.50 120.56L477.00 120.57L477.50 120.58L478.00 120.59L478.50 120.61L479.00 120.62L479.50 120.63L480.00 120.64L480.50 120.65L481.00 120.66L481.50 120.67L482.00 120.69L482.50 120.70L483.00 120.71L483.50 120.72L484.00 120.73L484.50 120.74L485.00 120.75L485.50 120.76L486.00 120.77L486.50 120.78L487.00 120.80L487.50 120.81L488.00 120.82L488.50 120.83L489.00 120.84L489.50 120.85L490.00 120.86L490.50 120.87L491.00 120.88L491.50 120.89L492.00 120.90L492.50 120.91L493.00 120.92" class="ct"/>
<text x="42.5" y="414.7" transform="rotate(-33.8 42.5 412.2)" class="cl">0.9995</text>
<text x="122.5" y="353.1" transform="rotate(-41.1 122.5 350.6)" class="cl">0.9995</text>
<text x="195.5" y="282.7" transform="rotate(-46.6 195.5 280.2)" class="cl">0.9995</text>
<path d="M23.00 424.72L23.50 424.41L24.00 424.10L24.50 423.79L25.00 423.48L25.50 423.17L26.00 422.85L26.50 422.54L27.00 422.22L27.50 421.91L28.00 421.59L28.50 421.28L29.00 420.96L29.50 420.64L30.00 420.32L30.50 420.01L31.00 419.69" class="ct"/>
<path d="M53.75 404.48L54.25 404.13L54.75 403.78L55.25 403.43L55.75 403.08L56.25 402.73L56.75 402.38L57.25 402.03L57.75 401.67L58.25 401.32L58.75 400.96L59.25 400.61L59.75 400.25L60.25 399.90L60.75 399.54L61.25 399.18L61.75 398.82L62.25 398.46L62.75 398.10L63.25 397.74L63.75 397.38L64.25 397.02L64.75 396.66L65.25 396.30L65.75 395.93L66.25 395.57L66.75 395.20L67.25 394.84L67.75 394.47L68.25 394.11L68.75 393.74L69.25 393.37L69.75 393.00L70.25 392.63L70.75 392.26L71.25 391.89L71.75 391.52L72.25 391.15L72.75 390.78L73.25 390.40L73.75 390.03L74.25 389.66L74.75 389.28L75.25 388.91L75.75 388.53L76.25 388.15L76.75 387.77L77.25 387.40L77.75 387.02L78.25 386.64L78.75 386.26L79.25 385.88L79.75 385.50L80.25 385.11L80.75 384.73L81.25 384.35L81.75 383.97L82.25 383.58L82.75 383.20L83.25 382.81L83.75 382.42L84.25 382.04L84.75 381.65L85.25 381.26L85.75 380.87L86.25 380.48L86.75 380.09L87.25 379.70L87.75 379.31L88.25 378.92L88.75 378.53L89.25 378.13L89.75 377.74L90.25 377.34L90.75 376.95L91.25 376.55L91.75 376.16L92.25 375.76L92.75 375.36L93.25 374.96L93.75 374.56L94.25 374.16L94.75 373.76L95.25 373.36L95.75 372.96L96.25 372.56L96.75 372.16L97.25 371.75L97.75 371.35L98.25 370.94L98.75 370.54L99.25 370.13L99.75 369.73L100.25 369.32L100.75 368.91L101.25 368.50L101.75 368.09L102.25 367.68L102.75 367.27L103.25 366.86L103.75 366.45L104.25 366.04L104.75 365.62L105.25 365.21L105.75 364.80L106.25 364.38L106.75 363.97L107.25 363.55L107.75 363.13L108.25 362.71L108.75 362.30L109.25 361.88L109.75 361.46L110.25 361.04L110.75 360.62L111.25 360.20L111.75 359.77L112.25 359.35" class="ct"/>
<path d="M132.75 341.48L133.25 341.03L133.75 340.58L134.25 340.13L134.75 339.68L135.25 339.23L135.75 338.78L136.25 338.32L136.75 337.87L137.25 337.42L137.75 336.96L138.25 336.51L138.75 336.05L139.25 335.59L139.75 335.14L140.25 334.68L140.75 334.22L141.25 333.76L141.75 333.30L142.25 332.84L142.75 332.38L143.25 331.92L143.75 331.45L144.25 330.99L144.75 330.53L145.25 330.06L145.75 329.60L146.25 329.13L146.75 328.67L147.25 328.20L147.75 327.73L148.25 327.26L148.75 326.79L149.25 326.32L149.75 325.85L150.25 325.38L150.75 324.91L151.25 324.44L151.75 323.97L152.25 323.49L152.75 323.02L153.25 322.55L153.75 322.07L154.25 321.59L154.75 321.12L155.25 320.64L155.75 320.16L156.25 319.69L156.75 319.21L157.25 318.73L157.75 318.25L158.25 317.77L158.75 317.28L159.25 316.80L159.75 316.32L160.25 315.84L160.75 315.35L161.25 314.87L161.75 314.38L162.25 313.90L162.75 313.41L163.25 312.92L163.75 312.43L164.25 311.94L164.75 311.46L165.25 310.97L165.75 310.48L166.25 309.98L166.75 309.49L167.25 309.00L167.75 308.51L168.25 308.01L168.75 307.52L169.25 307.02L169.75 306.53L170.25 306.03L170.75 305.54L171.25 305.04L171.75 304.54L172.25 304.04L172.75 303.54L173.25 303.04L173.75 302.54L174.25 302.04L174.75 301.54L175.25 301.04L175.75 300.53L176.25 300.03L176.75 299.53L177.25 299.02L177.75 298.52L178.25 298.01L178.75 297.50L179.25 296.99L179.75 296.49L180.25 295.98L180.75 295.47L181.25 294.96L181.75 294.45L182.25 293.94L182.75 293.42L183.25 292.91L183.75 292.40L184.25 291.88L184.75 291.37L185.25 290.85L185.75 290.34L186.00 290.08" class="ct"/>
<path d="M204.75 270.27L205.25 269.73L205.75 269.19L206.25 268.64L206.75 268.10L207.25 267.56L207.75 267.02L208.25 266.47L208.75 265.93L209.25 265.38L209.75 264.83L210.25 264.29L210.75 263.74L211.25 263.19L211.75 262.64L212.25 262.09L212.75 261.54L213.25 260.99L213.75 260.44L214.25 259.89L214.75 259.34L215.25 258.78L215.75 258.23L216.25 257.67L216.75 257.12L217.25 256.56L217.75 256.01" class="ct"/>
<text x="56.5" y="420.6" transform="rotate(-15.7 56.5 418.1)" class="cl">0.9998</text>
<text x="151.5" y="389.3" transform="rotate(-20.7 151.5 386.8)" class="cl">0.9998</text>
<path d="M23.00 426.99L23.50 426.86L24.00 426.74L24.50 426.62L25.00 426.49L25.50 426.37L26.00 426.24L26.50 426.12L27.00 425.99L27.50 425.86L28.00 425.74L28.50 425.61L29.00 425.48L29.50 425.36L30.00 425.23L30.50 425.10L31.00 424.97L31.50 424.85L32.00 424.72L32.50 424.59L33.00 424.46L33.50 424.33L34.00 424.20L34.50 424.07L35.00 423.94L35.50 423.81L36.00 423.68L36.50 423.55L37.00 423.42L37.50 423.29L38.00 423.16L38.50 423.03L39.00 422.90L39.50 422.76L40.00 422.63L40.50 422.50L41.00 422.37L41.50 422.23L42.00 422.10L42.50 421.97L43.00 421.83L43.25 421.77" class="ct"/>
<path d="M69.50 414.37L70.00 414.23L70.50 414.08L71.00 413.93L71.50 413.78L72.00 413.63L72.50 413.49L73.00 413.34L73.50 413.19L74.00 413.04L74.50 412.89L75.00 412.74L75.50 412.59L76.00 412.44L76.50 412.29L77.00 412.13L77.50 411.98L78.00 411.83L78.50 411.68L79.00 411.53L79.50 411.37L80.00 411.22L80.50 411.07L81.00 410.92L81.50 410.76L82.00 410.61L82.50 410.46L83.00 410.30L83.50 410.15L84.00 409.99L84.50 409.84L85.00 409.68L85.50 409.53L86.00 409.37L86.50 409.21L87.00 409.06L87.50 408.90L88.00 408.75L88.50 408.59L89.00 408.43L89.50 408.27L90.00 408.12L90.50 407.96L91.00 407.80L91.50 407.64L92.00 407.48L92.50 407.32L93.00 407.16L93.50 407.01L94.00 406.85L94.50 406.69L95.00 406.53L95.50 406.36L96.00 406.20L96.50 406.04L97.00 405.88L97.50 405.72L98.00 405.56L98.50 405.40L99.00 405.23L99.50 405.07L100.00 404.91L100.50 404.75L101.00 404.58L101.50 404.42L102.00 404.25L102.50 404.09L103.00 403.93L103.50 403.76L104.00 403.60L104.50 403.43L105.00 403.27L105.50 403.10L106.00 402.94L106.50 402.77L107.00 402.60L107.50 402.44L108.00 402.27L108.50 402.10L109.00 401.93L109.50 401.77L110.00 401.60L110.50 401.43L111.00 401.26L111.50 401.09L112.00 400.93L112.50 400.76L113.00 400.59L113.50 400.42L114.00 400.25L114.50 400.08L115.00 399.91L115.50 399.74L116.00 399.57L116.50 399.39L117.00 399.22L117.50 399.05L118.00 398.88L118.50 398.71L119.00 398.53L119.50 398.36L120.00 398.19L120.50 398.02L121.00 397.84L121.50 397.67L122.00 397.49L122.50 397.32L123.00 397.15L123.50 396.97L124.00 396.80L124.50 396.62L125.00 396.45L125.50 396.27L126.00 396.09L126.50 395.92L127.00 395.74L127.50 395.56L128.00 395.39L128.50 395.21L129.00 395.03L129.50 394.85L130.00 394.68L130.50 394.50L131.00 394.32L131.50 394.14L132.00 393.96L132.50 393.78L133.00 393.60L133.50 393.42L134.00 393.24L134.50 393.06L135.00 392.88L135.50 392.70L136.00 392.52L136.50 392.34L137.00 392.16L137.50 391.98L138.00 391.79L138.50 391.61L138.75 391.52" class="ct"/>
<path d="M164.25 381.88L164.75 381.68L165.25 381.49L165.75 381.29L166.25 381.09L166.75 380.90L167.25 380.70L167.75 380.50L168.25 380.31L168.75 380.11L169.25 379.91L169.75 379.71L170.25 379.51L170.75 379.31L171.25 379.12L171.75 378.92L172.25 378.72L172.75 378.52L173.25 378.32L173.75 378.12L174.25 377.92L174.75 377.72L175.25 377.51L175.75 377.31L176.25 377.11L176.75 376.91L177.25 376.71L177.75 376.51L178.25 376.30L178.75 376.10L179.25 375.90L179.75 375.69L180.25 375.49L180.75 375.29L181.25 375.08L181.75 374.88L182.25 374.67L182.75 374.47L183.25 374.26L183.75 374.06L184.25 373.85L184.75 373.65L185.25 373.44L185.75 373.24L186.25 373.03L186.75 372.82L187.25 372.61L187.75 372.41L188.25 372.20L188.75 371.99L189.25 371.78L189.75 371.58L190.25 371.37L190.75 371.16L191.25 370.95L191.75 370.74L192.25 370.53L192.75 370.32L193.25 370.11L193.75 369.90L194.25 369.69L194.75 369.48L195.25 369.27L195.75 369.06L196.25 368.84L196.75 368.63L197.25 368.42L197.75 368.21L198.25 367.99L198.75 367.78L199.25 367.57L199.75 367.36L200.25 367.14L200.75 366.93L201.25 366.71L201.75 366.50L202.25 366.28L202.75 366.07L203.25 365.85L203.75 365.64L204.25 365.42L204.75 365.21L205.25 364.99L205.75 364.77L206.25 364.56L206.75 364.34L207.25 364.12L207.75 363.91L208.25 363.69L208.75 363.47L209.25 363.25L209.75 363.03L210.25 362.81L210.75 362.60L211.25 362.38L211.75 362.16L212.25 361.94L212.75 361.72L213.25 361.50L213.75 361.28L214.25 361.06L214.75 360.83L215.25 360.61L215.75 360.39L216.25 360.17L216.75 359.95L217.25 359.73L217.75 359.50L218.25 359.28L218.75 359.06L219.25 358.83L219.75 358.61L220.25 358.39L220.75 358.16L221.25 357.94L221.75 357.71L222.25 357.49L222.75 357.26L223.25 357.04L223.75 356.81L224.25 356.59L224.75 356.36L225.25 356.13L225.75 355.91L226.25 355.68L226.75 355.45L227.00 355.34" class="ct"/>
<text x="318.5" y="288.1" transform="rotate(49.2 318.5 285.5)" class="cl">0.9995</text>
<text x="408.5" y="328.4" transform="rotate(9.2 408.5 325.9)" class="cl">0.9995</text>
<path d="M300.50 256.66L301.00 257.75L301.50 258.81L302.00 259.86L302.50 260.88L303.00 261.89L303.50 262.88L304.00 263.84L304.50 264.79L305.00 265.73L305.50 266.64L306.00 267.54L306.50 268.42L307.00 269.29L307.50 270.14L308.00 270.97L308.50 271.79L309.00 272.60L309.50 273.39L310.00 274.17L310.25 274.55" class="ct"/>
<path d="M328.25 295.29L328.75 295.72L329.25 296.14L329.75 296.56L330.25 296.97L330.75 297.37L331.25 297.77L331.75 298.16L332.25 298.55L332.75 298.93L333.25 299.31L333.75 299.68L334.25 300.05L334.75 300.41L335.25 300.76L335.75 301.12L336.25 301.46L336.75 301.81L337.25 302.14L337.75 302.48L338.25 302.81L338.75 303.13L339.25 303.45L339.75 303.77L340.25 304.08L340.75 304.39L341.25 304.69L341.75 304.99L342.25 305.29L342.75 305.58L343.25 305.87L343.75 306.15L344.25 306.43L344.75 306.71L345.25 306.99L345.75 307.26L346.25 307.53L346.75 307.79L347.25 308.05L347.75 308.31L348.25 308.56L348.75 308.82L349.25 309.07L349.75 309.31L350.25 309.55L350.75 309.80L351.25 310.03L351.75 310.27L352.25 310.50L352.75 310.73L353.25 310.95L353.75 311.18L354.25 311.40L354.75 311.62L355.25 311.83L355.75 312.05L356.25 312.26L356.75 312.47L357.25 312.67L357.75 312.88L358.25 313.08L358.75 313.28L359.25 313.48L359.75 313.67L360.25 313.87L360.75 314.06L361.25 314.25L361.75 314.43L362.25 314.62L362.75 314.80L363.25 314.98L363.75 315.16L364.25 315.34L364.75 315.51L365.25 315.69L365.75 315.86L366.25 316.03L366.75 316.20L367.25 316.36L367.75 316.53L368.25 316.69L368.75 316.85L369.25 317.01L369.75 317.17L370.25 317.33L370.75 317.48L371.25 317.63L371.75 317.79L372.25 317.94L372.75 318.09L373.25 318.23L373.75 318.38L374.25 318.52L374.75 318.67L375.25 318.81L375.75 318.95L376.25 319.09L376.75 319.23L377.25 319.36L377.75 319.50L378.25 319.63L378.75 319.76L379.25 319.89L379.75 320.02L380.25 320.15L380.75 320.28L381.25 320.41L381.75 320.53L382.25 320.66L382.75 320.78L383.25 320.90L383.75 321.02L384.25 321.14L384.75 321.26L385.25 321.38L385.75 321.50L386.25 321.61L386.75 321.73L387.25 321.84L387.75 321.95L388.25 322.06L388.75 322.17L389.25 322.28L389.75 322.39L390.25 322.50L390.75 322.61L391.25 322.71L391.75 322.82L392.25 322.92L392.75 323.03L393.25 323.13L393.75 323.23L394.25 323.33L394.75 323.43L395.00 323.48" class="ct"/>
<path d="M422.00 327.91L422.50 327.98L423.00 328.05L423.50 328.12L424.00 328.18L424.50 328.25L425.00 328.32L425.50 328.38L426.00 328.45L426.50 328.51L427.00 328.58L427.50 328.64L428.00 328.70L428.50 328.77L429.00 328.83L429.50 328.89L430.00 328.96L430.50 329.02L431.00 329.08L431.50 329.14L432.00 329.20L432.50 329.27L433.00 329.33L433.50 329.39L434.00 329.45L434.50 329.51L435.00 329.57L435.50 329.63L436.00 329.68L436.50 329.74L437.00 329.80L437.50 329.86L438.00 329.92L438.50 329.98L439.00 330.03L439.50 330.09L440.00 330.15L440.50 330.20L441.00 330.26L441.50 330.32L442.00 330.37L442.50 330.43L443.00 330.48L443.50 330.54L444.00 330.59L444.50 330.65L445.00 330.70L445.50 330.76L446.00 330.81L446.50 330.86L447.00 330.92L447.50 330.97L448.00 331.02L448.50 331.08L449.00 331.13L449.50 331.18L450.00 331.24L450.50 331.29L451.00 331.34L451.50 331.39L452.00 331.44L452.50 331.49L453.00 331.55L453.50 331.60L454.00 331.65L454.50 331.70L455.00 331.75L455.50 331.80L456.00 331.85L456.50 331.90L457.00 331.95L457.50 332.00L458.00 332.05L458.50 332.10L459.00 332.15L459.50 332.20L460.00 332.25L460.50 332.29L461.00 332.34L461.50 332.39L462.00 332.44L462.50 332.49L463.00 332.54L463.50 332.58L464.00 332.63L464.50 332.68L465.00 332.73L465.50 332.78L466.00 332.82L466.50 332.87L467.00 332.92L467.50 332.96L468.00 333.01L468.50 333.06L469.00 333.10L469.50 333.15L470.00 333.20L470.50 333.24L471.00 333.29L471.50 333.34L472.00 333.38L472.50 333.43L473.00 333.47L473.50 333.52L474.00 333.56L474.50 333.61L475.00 333.65L475.50 333.70L476.00 333.74L476.50 333.79L477.00 333.83L477.50 333.88L478.00 333.92L478.50 333.97L479.00 334.01L479.50 334.06L480.00 334.10L480.50 334.15L481.00 334.19L481.50 334.24L482.00 334.28L482.50 334.32L483.00 334.37L483.50 334.41L484.00 334.46L484.50 334.50L485.00 334.54L485.50 334.59L486.00 334.63L486.50 334.67L487.00 334.72L487.50 334.76L488.00 334.80L488.50 334.85L489.00 334.89L489.50 334.93L490.00 334.98L490.50 335.02L491.00 335.06L491.50 335.10L492.00 335.15L492.50 335.19L493.00 335.23L493.25 335.25" class="ct"/>
<text x="321.0" y="375.1" transform="rotate(23.2 321.0 372.6)" class="cl">0.9998</text>
<text x="419.5" y="390.8" transform="rotate(3.2 419.5 388.2)" class="cl">0.9998</text>
<path d="M295.00 354.47L295.50 355.02L296.00 355.55L296.50 356.07L297.00 356.58L297.50 357.08L298.00 357.57L298.50 358.06L299.00 358.53L299.50 358.99L300.00 359.44L300.50 359.88L301.00 360.32L301.50 360.75L302.00 361.16L302.50 361.57L303.00 361.98L303.50 362.37L304.00 362.76L304.50 363.14L305.00 363.51L305.50 363.88L306.00 364.24L306.50 364.59L307.00 364.93L307.50 365.27L308.00 365.61L308.50 365.94L309.00 366.26" class="ct"/>
<path d="M333.75 377.09L334.25 377.24L334.75 377.38L335.25 377.53L335.75 377.67L336.25 377.81L336.75 377.94L337.25 378.08L337.75 378.21L338.25 378.34L338.75 378.47L339.25 378.60L339.75 378.73L340.25 378.85L340.75 378.97L341.25 379.10L341.75 379.22L342.25 379.33L342.75 379.45L343.25 379.57L343.75 379.68L344.25 379.79L344.75 379.90L345.25 380.01L345.75 380.12L346.25 380.23L346.75 380.34L347.25 380.44L347.75 380.54L348.25 380.65L348.75 380.75L349.25 380.85L349.75 380.94L350.25 381.04L350.75 381.14L351.25 381.23L351.75 381.33L352.25 381.42L352.75 381.51L353.25 381.60L353.75 381.69L354.25 381.78L354.75 381.87L355.25 381.95L355.75 382.04L356.25 382.12L356.75 382.21L357.25 382.29L357.75 382.37L358.25 382.45L358.75 382.53L359.25 382.61L359.75 382.69L360.25 382.77L360.75 382.84L361.25 382.92L361.75 382.99L362.25 383.07L362.75 383.14L363.25 383.21L363.75 383.28L364.25 383.36L364.75 383.43L365.25 383.50L365.75 383.56L366.25 383.63L366.75 383.70L367.25 383.77L367.75 383.83L368.25 383.90L368.75 383.96L369.25 384.02L369.75 384.09L370.25 384.15L370.75 384.21L371.25 384.27L371.75 384.33L372.25 384.39L372.75 384.45L373.25 384.51L373.75 384.57L374.25 384.63L374.75 384.69L375.25 384.74L375.75 384.80L376.25 384.85L376.75 384.91L377.25 384.96L377.75 385.02L378.25 385.07L378.75 385.13L379.25 385.18L379.75 385.23L380.25 385.28L380.75 385.33L381.25 385.38L381.75 385.43L382.25 385.48L382.75 385.53L383.25 385.58L383.75 385.63L384.25 385.68L384.75 385.72L385.25 385.77L385.75 385.82L386.25 385.86L386.75 385.91L387.25 385.96L387.75 386.00L388.25 386.05L388.75 386.09L389.25 386.13L389.75 386.18L390.25 386.22L390.75 386.26L391.25 386.31L391.75 386.35L392.25 386.39L392.75 386.43L393.25 386.47L393.75 386.51L394.25 386.55L394.75 386.59L395.25 386.63L395.75 386.67L396.25 386.71L396.75 386.75L397.25 386.79L397.75 386.83L398.25 386.86L398.75 386.90L399.25 386.94L399.75 386.98L400.25 387.01L400.75 387.05L401.25 387.09L401.75 387.12L402.25 387.16L402.75 387.19L403.25 387.23L403.75 387.26L404.25 387.30L404.75 387.33L405.25 387.37L405.75 387.40L406.00 387.42" class="ct"/>
<path d="M433.00 388.95L433.50 388.97L434.00 389.00L434.50 389.02L435.00 389.05L435.50 389.07L436.00 389.09L436.50 389.12L437.00 389.14L437.50 389.16L438.00 389.19L438.50 389.21L439.00 389.23L439.50 389.26L440.00 389.28L440.50 389.30L441.00 389.32L441.50 389.35L442.00 389.37L442.50 389.39L443.00 389.41L443.50 389.44L444.00 389.46L444.50 389.48L445.00 389.50L445.50 389.52L446.00 389.54L446.50 389.57L447.00 389.59L447.50 389.61L448.00 389.63L448.50 389.65L449.00 389.67L449.50 389.69L450.00 389.71L450.50 389.74L451.00 389.76L451.50 389.78L452.00 389.80L452.50 389.82L453.00 389.84L453.50 389.86L454.00 389.88L454.50 389.90L455.00 389.92L455.50 389.94L456.00 389.96L456.50 389.98L457.00 390.00L457.50 390.02L458.00 390.04L458.50 390.06L459.00 390.08L459.50 390.10L460.00 390.12L460.50 390.14L461.00 390.16L461.50 390.18L462.00 390.20L462.50 390.22L463.00 390.23L463.50 390.25L464.00 390.27L464.50 390.29L465.00 390.31L465.50 390.33L466.00 390.35L466.50 390.37L467.00 390.39L467.50 390.41L468.00 390.42L468.50 390.44L469.00 390.46L469.50 390.48L470.00 390.50L470.50 390.52L471.00 390.54L471.50 390.55L472.00 390.57L472.50 390.59L473.00 390.61L473.50 390.63L474.00 390.65L474.50 390.66L475.00 390.68L475.50 390.70L476.00 390.72L476.50 390.74L477.00 390.75L477.50 390.77L478.00 390.79L478.50 390.81L479.00 390.83L479.50 390.84L480.00 390.86L480.50 390.88L481.00 390.90L481.50 390.91L482.00 390.93L482.50 390.95L483.00 390.97L483.50 390.98L484.00 391.00L484.50 391.02L485.00 391.04L485.50 391.05L486.00 391.07L486.50 391.09L487.00 391.11L487.50 391.12L488.00 391.14L488.50 391.16L489.00 391.18L489.50 391.19L490.00 391.21L490.50 391.23L491.00 391.24L491.50 391.26L492.00 391.28L492.50 391.30L493.00 391.31L493.25 391.32" class="ct"/>
<text x="19.3" y="185.7" class="tk2" text-anchor="end">0</text>
<text x="19.3" y="142.4" class="tk2" text-anchor="end">2</text>
<text x="19.3" y="99.2" class="tk2" text-anchor="end">4</text>
<text x="19.3" y="56.0" class="tk2" text-anchor="end">6</text>
<text x="19.3" y="12.7" class="tk2" text-anchor="end">8</text>
<text x="47.7" y="196.2" class="tk2" text-anchor="middle">-0.5</text>
<text x="78.6" y="196.2" class="tk2" text-anchor="middle">0</text>
<text x="109.5" y="196.2" class="tk2" text-anchor="middle">0.5</text>
<text x="140.5" y="196.2" class="tk2" text-anchor="middle">1</text>
<text x="171.4" y="196.2" class="tk2" text-anchor="middle">1.5</text>
<text x="202.3" y="196.2" class="tk2" text-anchor="middle">2</text>
<text x="247.5" y="186.1" class="tk" text-anchor="start">0.998</text>
<text x="247.5" y="142.8" class="tk" text-anchor="start">0.9985</text>
<text x="247.5" y="99.6" class="tk" text-anchor="start">0.999</text>
<text x="247.5" y="56.4" class="tk" text-anchor="start">0.9995</text>
<text x="247.5" y="13.1" class="tk" text-anchor="start">1</text>
<text x="125.0" y="210.5" class="ax" text-anchor="middle">&#951;</text>
<text x="6.5" y="99.0" class="ax" text-anchor="middle" transform="rotate(-90 6.5 95.5)">&#954;</text>
<text x="291.3" y="185.7" class="tk2" text-anchor="end">0</text>
<text x="291.3" y="142.7" class="tk2" text-anchor="end">2</text>
<text x="291.3" y="99.7" class="tk2" text-anchor="end">4</text>
<text x="291.3" y="56.7" class="tk2" text-anchor="end">6</text>
<text x="291.3" y="13.7" class="tk2" text-anchor="end">8</text>
<text x="336.7" y="196.2" class="tk2" text-anchor="middle">4</text>
<text x="388.8" y="196.2" class="tk2" text-anchor="middle">6</text>
<text x="440.9" y="196.2" class="tk2" text-anchor="middle">8</text>
<text x="493.0" y="196.2" class="tk2" text-anchor="middle">10</text>
<text x="519.5" y="186.1" class="tk" text-anchor="start">0.998</text>
<text x="519.5" y="143.1" class="tk" text-anchor="start">0.9985</text>
<text x="519.5" y="100.1" class="tk" text-anchor="start">0.999</text>
<text x="519.5" y="57.1" class="tk" text-anchor="start">0.9995</text>
<text x="519.5" y="14.1" class="tk" text-anchor="start">1</text>
<text x="394.0" y="210.5" class="ax" text-anchor="middle">&#951;</text>
<text x="278.5" y="99.5" class="ax" text-anchor="middle" transform="rotate(-90 278.5 96.0)">&#954;</text>
<text x="19.3" y="432.2" class="tk2" text-anchor="end">0</text>
<text x="19.3" y="389.1" class="tk2" text-anchor="end">2</text>
<text x="19.3" y="345.9" class="tk2" text-anchor="end">4</text>
<text x="19.3" y="302.8" class="tk2" text-anchor="end">6</text>
<text x="19.3" y="259.7" class="tk2" text-anchor="end">8</text>
<text x="47.7" y="442.7" class="tk2" text-anchor="middle">-0.5</text>
<text x="78.6" y="442.7" class="tk2" text-anchor="middle">0</text>
<text x="109.5" y="442.7" class="tk2" text-anchor="middle">0.5</text>
<text x="140.5" y="442.7" class="tk2" text-anchor="middle">1</text>
<text x="171.4" y="442.7" class="tk2" text-anchor="middle">1.5</text>
<text x="202.3" y="442.7" class="tk2" text-anchor="middle">2</text>
<text x="247.5" y="432.6" class="tk" text-anchor="start">0.998</text>
<text x="247.5" y="389.5" class="tk" text-anchor="start">0.9985</text>
<text x="247.5" y="346.4" class="tk" text-anchor="start">0.999</text>
<text x="247.5" y="303.2" class="tk" text-anchor="start">0.9995</text>
<text x="247.5" y="260.1" class="tk" text-anchor="start">1</text>
<text x="125.0" y="457.0" class="ax" text-anchor="middle">&#951;</text>
<text x="6.5" y="345.8" class="ax" text-anchor="middle" transform="rotate(-90 6.5 342.2)">&#954;</text>
<text x="291.3" y="432.4" class="tk2" text-anchor="end">0</text>
<text x="291.3" y="389.4" class="tk2" text-anchor="end">2</text>
<text x="291.3" y="346.3" class="tk2" text-anchor="end">4</text>
<text x="291.3" y="303.3" class="tk2" text-anchor="end">6</text>
<text x="291.3" y="260.3" class="tk2" text-anchor="end">8</text>
<text x="336.7" y="442.9" class="tk2" text-anchor="middle">4</text>
<text x="388.9" y="442.9" class="tk2" text-anchor="middle">6</text>
<text x="441.1" y="442.9" class="tk2" text-anchor="middle">8</text>
<text x="493.3" y="442.9" class="tk2" text-anchor="middle">10</text>
<text x="519.5" y="432.8" class="tk" text-anchor="start">0.998</text>
<text x="519.5" y="389.8" class="tk" text-anchor="start">0.9985</text>
<text x="519.5" y="346.8" class="tk" text-anchor="start">0.999</text>
<text x="519.5" y="303.7" class="tk" text-anchor="start">0.9995</text>
<text x="519.5" y="260.7" class="tk" text-anchor="start">1</text>
<text x="394.1" y="457.2" class="ax" text-anchor="middle">&#951;</text>
<text x="278.5" y="346.1" class="ax" text-anchor="middle" transform="rotate(-90 278.5 342.6)">&#954;</text>
<text x="137.5" y="230.5" class="cap" text-anchor="middle">(<tspan font-weight="bold">a</tspan>)</text>
<text x="408.4" y="230.5" class="cap" text-anchor="middle">(<tspan font-weight="bold">b</tspan>)</text>
<text x="137.5" y="476.8" class="cap" text-anchor="middle">(<tspan font-weight="bold">c</tspan>)</text>
<text x="408.4" y="476.8" class="cap" text-anchor="middle">(<tspan font-weight="bold">d</tspan>)</text>
<text x="59.9" y="41.6" class="rg" text-anchor="middle">I</text>
<text x="135.9" y="80.3" class="rg" text-anchor="middle">II</text>
<text x="196.6" y="151.0" class="rg" text-anchor="middle">III</text>
<text x="476.8" y="22.0" class="rg" text-anchor="middle">I</text>
<text x="407.5" y="79.3" class="rg" text-anchor="middle">II</text>
<text x="355.5" y="155.6" class="rg" text-anchor="middle">III</text>
<text x="93.0" y="310.9" class="rg" text-anchor="middle">I</text>
<text x="169.0" y="349.4" class="rg" text-anchor="middle">II</text>
<text x="207.0" y="402.9" class="rg" text-anchor="middle">III</text>
<text x="425.0" y="287.5" class="rg" text-anchor="middle">I</text>
<text x="385.0" y="350.9" class="rg" text-anchor="middle">II</text>
<text x="336.0" y="412.9" class="rg" text-anchor="middle">III</text>
</svg>
</body></html>
